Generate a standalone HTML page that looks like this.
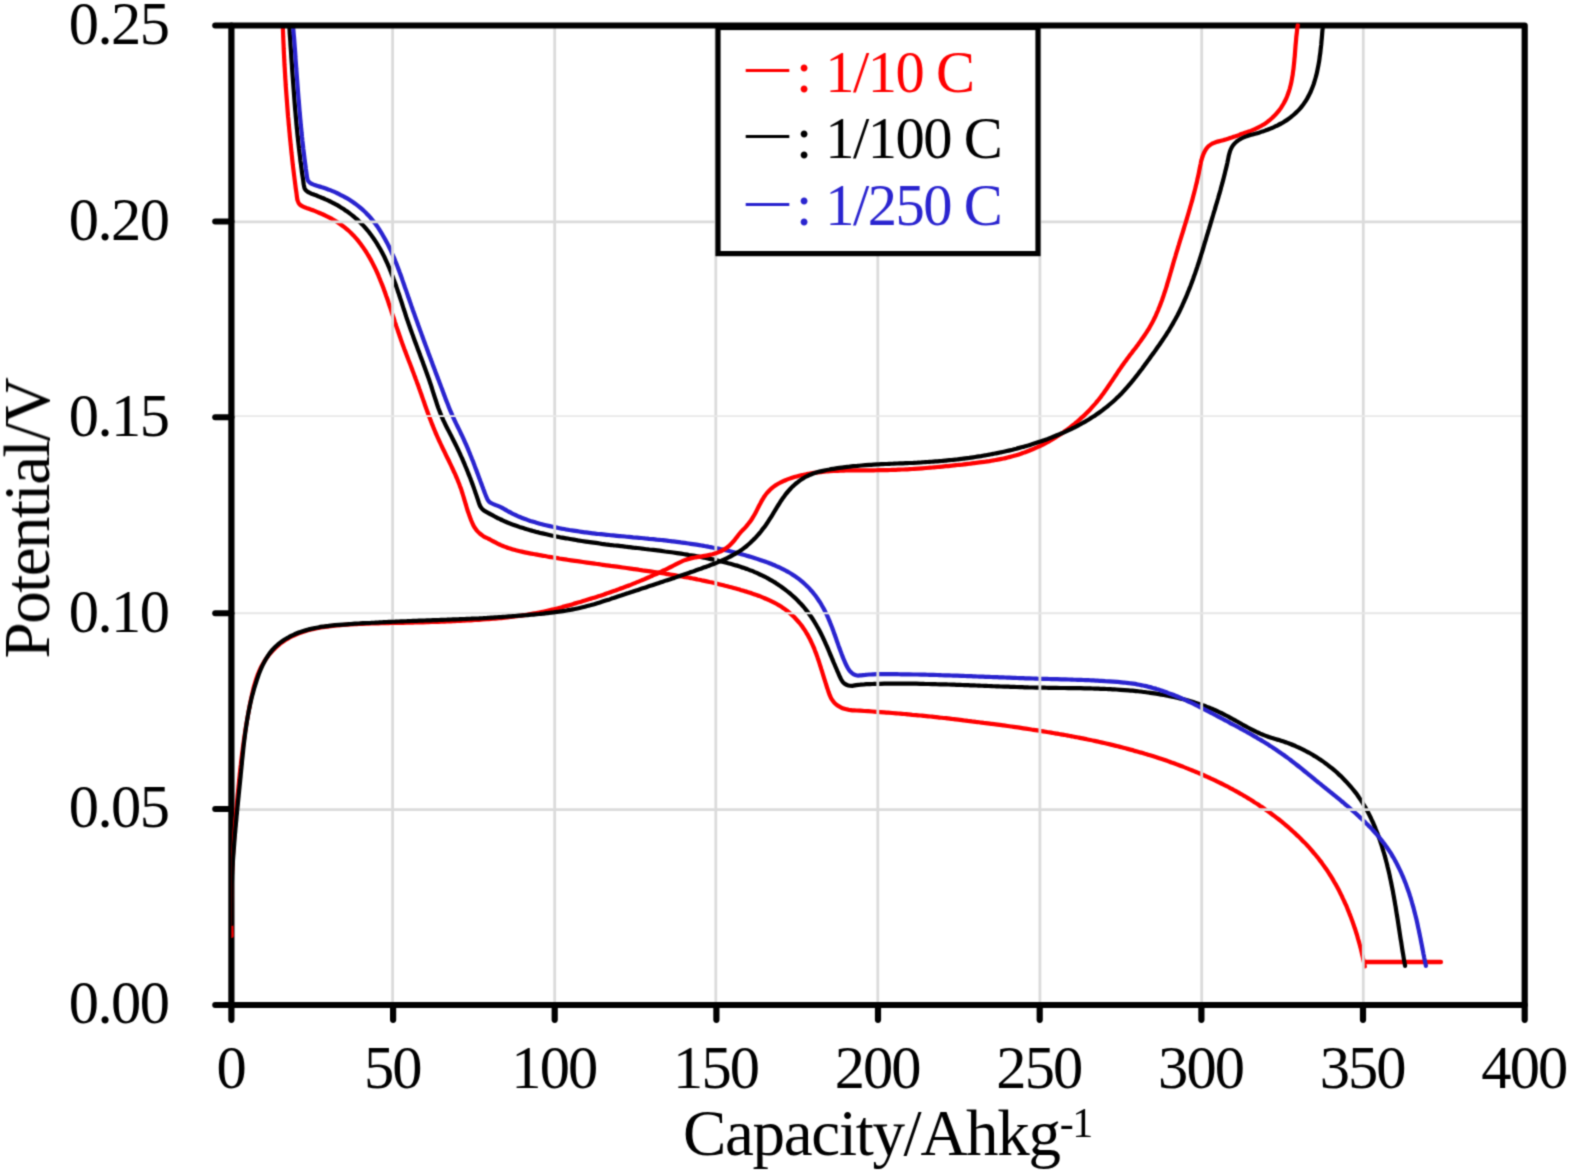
<!DOCTYPE html>
<html lang="en"><head><meta charset="utf-8"><title>Potential vs Capacity</title>
<style>
html,body{margin:0;padding:0;background:#fff;}
body{width:1570px;height:1172px;overflow:hidden;}
svg{display:block;}
svg text{font-family:"Liberation Serif","DejaVu Serif",serif;}
</style></head><body>
<svg width="1570" height="1172" viewBox="0 0 1570 1172">
<defs><filter id="soft" x="0" y="0" width="1570" height="1172" filterUnits="userSpaceOnUse" color-interpolation-filters="sRGB"><feConvolveMatrix order="3" kernelMatrix="0.0361 0.1178 0.0361 0.1178 0.3846 0.1178 0.0361 0.1178 0.0361" edgeMode="duplicate" preserveAlpha="true"/></filter></defs>
<g filter="url(#soft)">
<rect width="1570" height="1172" fill="#fff"/>
<defs><clipPath id="pc"><rect x="231.4" y="23.5" width="1293.3" height="981.5"/></clipPath></defs>
<g clip-path="url(#pc)">
<path d="M282.8 25.0 C282.8 25.7 282.9 27.7 282.9 29.0 C283.0 30.3 283.0 31.7 283.1 33.0 C283.1 34.3 283.2 35.7 283.2 37.0 C283.3 38.3 283.3 39.7 283.4 41.0 C283.4 42.3 283.5 43.7 283.6 45.0 C283.6 46.3 283.7 47.7 283.7 49.0 C283.8 50.3 283.9 51.7 283.9 53.0 C284.0 54.3 284.1 55.7 284.1 57.0 C284.2 58.3 284.3 59.7 284.3 61.0 C284.4 62.3 284.5 63.7 284.5 65.0 C284.6 66.3 284.7 67.7 284.8 69.0 C284.8 70.3 284.9 71.7 285.0 73.0 C285.1 74.3 285.2 75.7 285.2 77.0 C285.3 78.3 285.4 79.7 285.5 81.0 C285.6 82.3 285.7 83.7 285.7 85.0 C285.8 86.3 285.9 87.7 286.0 89.0 C286.1 90.3 286.2 91.7 286.3 93.0 C286.4 94.3 286.5 95.7 286.6 97.0 C286.7 98.3 286.8 99.6 286.9 101.0 C287.0 102.3 287.1 103.6 287.2 105.0 C287.3 106.3 287.4 107.6 287.5 109.0 C287.6 110.3 287.7 111.6 287.8 113.0 C287.9 114.3 288.0 115.6 288.1 117.0 C288.3 118.3 288.4 119.6 288.5 120.9 C288.6 122.3 288.7 123.6 288.8 124.9 C289.0 126.3 289.1 127.6 289.2 128.9 C289.3 130.2 289.4 131.6 289.6 132.9 C289.7 134.2 289.8 135.6 289.9 136.9 C290.1 138.2 290.2 139.6 290.3 140.9 C290.5 142.2 290.6 143.5 290.7 144.9 C290.9 146.2 291.0 147.5 291.1 148.9 C291.3 150.2 291.4 151.5 291.5 152.8 C291.7 154.2 291.8 155.5 292.0 156.8 C292.1 158.1 292.2 159.5 292.4 160.8 C292.5 162.1 292.7 163.5 292.8 164.8 C293.0 166.1 293.1 167.4 293.3 168.8 C293.5 170.1 293.6 171.4 293.8 172.7 C293.9 174.1 294.1 175.4 294.3 176.7 C294.4 178.0 294.6 179.4 294.8 180.7 C294.9 182.0 295.1 183.3 295.3 184.7 C295.5 186.0 295.6 187.3 295.8 188.6 C296.0 189.9 296.2 191.3 296.4 192.6 C296.6 193.9 296.7 195.2 296.9 196.6 C297.1 197.9 297.2 199.3 297.6 200.5 C298.0 201.8 298.5 203.1 299.4 204.1 C300.2 205.1 301.4 205.8 302.6 206.4 C303.8 207.1 305.1 207.4 306.4 207.9 C307.6 208.3 308.9 208.7 310.1 209.2 C311.4 209.6 312.6 210.1 313.9 210.6 C315.1 211.1 316.4 211.6 317.6 212.1 C318.8 212.6 320.1 213.1 321.3 213.7 C322.5 214.2 323.7 214.8 324.9 215.3 C326.1 215.9 327.3 216.5 328.5 217.1 C329.7 217.7 330.9 218.4 332.0 219.0 C333.2 219.7 334.4 220.3 335.5 221.0 C336.6 221.7 337.8 222.5 338.9 223.2 C340.0 223.9 341.1 224.7 342.1 225.5 C343.2 226.3 344.3 227.1 345.3 227.9 C346.4 228.8 347.4 229.6 348.4 230.5 C349.4 231.4 350.3 232.3 351.3 233.3 C352.2 234.2 353.2 235.2 354.1 236.1 C355.0 237.1 355.9 238.1 356.8 239.1 C357.6 240.1 358.5 241.2 359.3 242.2 C360.1 243.3 360.9 244.3 361.7 245.4 C362.5 246.5 363.3 247.6 364.0 248.7 C364.8 249.8 365.5 250.9 366.2 252.0 C366.9 253.2 367.6 254.3 368.3 255.5 C369.0 256.6 369.7 257.8 370.3 258.9 C371.0 260.1 371.6 261.3 372.2 262.4 C372.8 263.6 373.4 264.8 374.0 266.0 C374.6 267.2 375.2 268.4 375.8 269.6 C376.3 270.8 376.9 272.1 377.4 273.3 C378.0 274.5 378.5 275.7 379.0 277.0 C379.5 278.2 380.0 279.4 380.5 280.7 C381.0 281.9 381.5 283.1 382.0 284.4 C382.5 285.6 383.0 286.9 383.4 288.1 C383.9 289.4 384.4 290.6 384.8 291.9 C385.3 293.1 385.7 294.4 386.1 295.7 C386.6 296.9 387.0 298.2 387.5 299.4 C387.9 300.7 388.3 302.0 388.7 303.2 C389.2 304.5 389.6 305.8 390.0 307.0 C390.4 308.3 390.9 309.6 391.3 310.8 C391.7 312.1 392.1 313.4 392.5 314.6 C392.9 315.9 393.4 317.2 393.8 318.4 C394.2 319.7 394.6 321.0 395.0 322.3 C395.4 323.5 395.9 324.8 396.3 326.1 C396.7 327.3 397.1 328.6 397.6 329.8 C398.0 331.1 398.4 332.4 398.9 333.6 C399.3 334.9 399.7 336.2 400.2 337.4 C400.6 338.7 401.0 339.9 401.5 341.2 C401.9 342.5 402.4 343.7 402.9 345.0 C403.3 346.2 403.8 347.5 404.2 348.7 C404.7 350.0 405.2 351.2 405.7 352.5 C406.1 353.7 406.6 355.0 407.1 356.2 C407.6 357.5 408.0 358.7 408.5 360.0 C409.0 361.2 409.5 362.4 410.0 363.7 C410.4 364.9 410.9 366.2 411.4 367.4 C411.9 368.7 412.4 369.9 412.8 371.2 C413.3 372.4 413.8 373.7 414.2 374.9 C414.7 376.2 415.2 377.4 415.6 378.7 C416.1 379.9 416.6 381.2 417.0 382.4 C417.5 383.7 417.9 384.9 418.4 386.2 C418.8 387.5 419.3 388.7 419.7 390.0 C420.2 391.2 420.6 392.5 421.1 393.7 C421.5 395.0 421.9 396.3 422.4 397.5 C422.8 398.8 423.3 400.0 423.7 401.3 C424.2 402.6 424.6 403.8 425.0 405.1 C425.5 406.3 425.9 407.6 426.4 408.9 C426.8 410.1 427.3 411.4 427.7 412.6 C428.2 413.9 428.7 415.1 429.1 416.4 C429.6 417.6 430.1 418.9 430.5 420.1 C431.0 421.4 431.5 422.6 432.0 423.9 C432.5 425.1 433.0 426.3 433.5 427.6 C434.0 428.8 434.5 430.1 435.0 431.3 C435.5 432.5 436.0 433.8 436.6 435.0 C437.1 436.2 437.6 437.4 438.2 438.6 C438.7 439.9 439.3 441.1 439.9 442.3 C440.4 443.5 441.0 444.7 441.6 445.9 C442.1 447.1 442.7 448.3 443.3 449.5 C443.9 450.7 444.5 451.9 445.1 453.1 C445.6 454.3 446.2 455.5 446.8 456.7 C447.4 457.9 448.0 459.1 448.6 460.3 C449.2 461.5 449.7 462.7 450.3 463.9 C450.9 465.1 451.5 466.3 452.0 467.5 C452.6 468.7 453.2 469.9 453.7 471.2 C454.3 472.4 454.8 473.6 455.4 474.8 C455.9 476.0 456.4 477.3 457.0 478.5 C457.5 479.7 458.0 480.9 458.5 482.2 C459.0 483.4 459.5 484.7 459.9 485.9 C460.4 487.2 460.8 488.4 461.3 489.7 C461.7 491.0 462.1 492.2 462.5 493.5 C462.9 494.8 463.3 496.1 463.7 497.3 C464.1 498.6 464.4 499.9 464.8 501.2 C465.2 502.5 465.6 503.7 466.0 505.0 C466.3 506.3 466.7 507.6 467.1 508.8 C467.5 510.1 467.9 511.4 468.4 512.7 C468.8 513.9 469.2 515.2 469.7 516.4 C470.1 517.7 470.6 518.9 471.1 520.2 C471.6 521.4 472.1 522.7 472.7 523.9 C473.2 525.1 473.8 526.3 474.6 527.4 C475.3 528.5 476.1 529.6 476.9 530.6 C477.8 531.6 478.8 532.6 479.8 533.5 C480.8 534.3 481.9 535.1 483.0 535.9 C484.1 536.6 485.3 537.2 486.5 537.8 C487.7 538.5 488.9 539.0 490.1 539.6 C491.3 540.2 492.4 540.9 493.6 541.5 C494.8 542.1 495.9 542.8 497.1 543.4 C498.3 544.0 499.5 544.5 500.8 545.1 C502.0 545.6 503.2 546.1 504.5 546.6 C505.7 547.1 507.0 547.5 508.2 548.0 C509.5 548.4 510.8 548.8 512.1 549.2 C513.3 549.6 514.6 549.9 515.9 550.3 C517.2 550.6 518.5 550.9 519.8 551.2 C521.1 551.5 522.4 551.8 523.7 552.1 C525.0 552.4 526.3 552.7 527.6 552.9 C528.9 553.2 530.2 553.4 531.6 553.7 C532.9 553.9 534.2 554.2 535.5 554.4 C536.8 554.7 538.1 554.9 539.4 555.1 C540.8 555.4 542.1 555.6 543.4 555.8 C544.7 556.1 546.0 556.3 547.3 556.5 C548.6 556.7 550.0 557.0 551.3 557.2 C552.6 557.4 553.9 557.6 555.2 557.8 C556.5 558.0 557.9 558.2 559.2 558.5 C560.5 558.7 561.8 558.9 563.1 559.1 C564.5 559.3 565.8 559.5 567.1 559.7 C568.4 559.9 569.7 560.1 571.1 560.3 C572.4 560.5 573.7 560.7 575.0 560.9 C576.3 561.1 577.7 561.3 579.0 561.4 C580.3 561.6 581.6 561.8 582.9 562.0 C584.3 562.2 585.6 562.4 586.9 562.6 C588.2 562.8 589.6 563.0 590.9 563.1 C592.2 563.3 593.5 563.5 594.8 563.7 C596.2 563.9 597.5 564.1 598.8 564.2 C600.1 564.4 601.5 564.6 602.8 564.8 C604.1 565.0 605.4 565.1 606.8 565.3 C608.1 565.5 609.4 565.7 610.7 565.9 C612.0 566.0 613.4 566.2 614.7 566.4 C616.0 566.6 617.3 566.8 618.7 566.9 C620.0 567.1 621.3 567.3 622.6 567.5 C623.9 567.7 625.3 567.9 626.6 568.0 C627.9 568.2 629.2 568.4 630.6 568.6 C631.9 568.8 633.2 568.9 634.5 569.1 C635.8 569.3 637.2 569.5 638.5 569.7 C639.8 569.9 641.1 570.1 642.5 570.3 C643.8 570.4 645.1 570.6 646.4 570.8 C647.7 571.0 649.1 571.2 650.4 571.4 C651.7 571.6 653.0 571.8 654.3 572.0 C655.7 572.2 657.0 572.4 658.3 572.6 C659.6 572.8 660.9 573.0 662.3 573.2 C663.6 573.4 664.9 573.6 666.2 573.8 C667.5 574.0 668.9 574.3 670.2 574.5 C671.5 574.7 672.8 574.9 674.1 575.1 C675.4 575.4 676.8 575.6 678.1 575.8 C679.4 576.0 680.7 576.3 682.0 576.5 C683.3 576.7 684.6 577.0 686.0 577.2 C687.3 577.4 688.6 577.7 689.9 577.9 C691.2 578.2 692.5 578.4 693.8 578.7 C695.1 578.9 696.4 579.2 697.8 579.5 C699.1 579.7 700.4 580.0 701.7 580.3 C703.0 580.5 704.3 580.8 705.6 581.1 C706.9 581.4 708.2 581.7 709.5 582.0 C710.8 582.2 712.1 582.5 713.4 582.8 C714.7 583.1 716.0 583.4 717.3 583.7 C718.6 584.1 719.9 584.4 721.2 584.7 C722.5 585.0 723.8 585.3 725.1 585.7 C726.4 586.0 727.7 586.3 729.0 586.7 C730.3 587.0 731.6 587.4 732.8 587.7 C734.1 588.1 735.4 588.4 736.7 588.8 C738.0 589.2 739.3 589.5 740.5 589.9 C741.8 590.3 743.1 590.7 744.4 591.1 C745.7 591.4 746.9 591.8 748.2 592.2 C749.5 592.6 750.7 593.1 752.0 593.5 C753.3 593.9 754.5 594.3 755.8 594.8 C757.1 595.2 758.3 595.7 759.6 596.1 C760.8 596.6 762.1 597.1 763.3 597.6 C764.5 598.1 765.8 598.6 767.0 599.2 C768.2 599.7 769.4 600.2 770.6 600.8 C771.8 601.4 773.0 602.0 774.2 602.6 C775.4 603.2 776.6 603.9 777.7 604.6 C778.9 605.2 780.0 605.9 781.1 606.6 C782.3 607.4 783.4 608.1 784.5 608.9 C785.5 609.7 786.6 610.5 787.7 611.3 C788.7 612.1 789.7 613.0 790.7 613.9 C791.7 614.7 792.7 615.7 793.7 616.6 C794.6 617.5 795.5 618.5 796.4 619.5 C797.3 620.5 798.2 621.5 799.1 622.5 C799.9 623.5 800.8 624.6 801.6 625.6 C802.4 626.7 803.1 627.8 803.9 628.9 C804.6 630.0 805.4 631.1 806.1 632.3 C806.8 633.4 807.4 634.5 808.1 635.7 C808.7 636.9 809.4 638.1 810.0 639.2 C810.6 640.4 811.1 641.6 811.7 642.9 C812.3 644.1 812.8 645.3 813.3 646.5 C813.9 647.7 814.4 649.0 814.8 650.2 C815.3 651.5 815.8 652.7 816.3 654.0 C816.7 655.2 817.2 656.5 817.6 657.7 C818.1 659.0 818.5 660.3 818.9 661.5 C819.3 662.8 819.7 664.1 820.1 665.3 C820.5 666.6 820.9 667.9 821.3 669.2 C821.7 670.4 822.1 671.7 822.5 673.0 C822.9 674.3 823.3 675.5 823.7 676.8 C824.1 678.1 824.5 679.4 824.9 680.6 C825.3 681.9 825.7 683.2 826.1 684.5 C826.5 685.7 826.9 687.0 827.3 688.3 C827.8 689.5 828.2 690.8 828.6 692.1 C829.1 693.3 829.5 694.6 830.0 695.8 C830.6 697.0 831.1 698.3 831.8 699.4 C832.5 700.5 833.3 701.6 834.2 702.6 C835.1 703.6 836.1 704.5 837.2 705.3 C838.3 706.1 839.4 706.8 840.7 707.3 C841.9 707.9 843.1 708.4 844.4 708.8 C845.7 709.2 847.0 709.5 848.3 709.7 C849.6 710.0 851.0 710.1 852.3 710.3 C853.6 710.4 854.9 710.4 856.3 710.5 C857.6 710.5 858.9 710.6 860.3 710.7 C861.6 710.8 862.9 710.9 864.3 711.0 C865.6 711.0 866.9 711.1 868.3 711.2 C869.6 711.3 870.9 711.4 872.3 711.5 C873.6 711.6 874.9 711.7 876.3 711.8 C877.6 711.9 878.9 712.0 880.3 712.1 C881.6 712.2 882.9 712.3 884.3 712.4 C885.6 712.5 886.9 712.6 888.2 712.7 C889.6 712.8 890.9 712.9 892.2 713.0 C893.6 713.1 894.9 713.2 896.2 713.3 C897.6 713.4 898.9 713.6 900.2 713.7 C901.5 713.8 902.9 713.9 904.2 714.0 C905.5 714.1 906.9 714.3 908.2 714.4 C909.5 714.5 910.9 714.6 912.2 714.8 C913.5 714.9 914.8 715.0 916.2 715.1 C917.5 715.3 918.8 715.4 920.2 715.5 C921.5 715.6 922.8 715.8 924.1 715.9 C925.5 716.0 926.8 716.2 928.1 716.3 C929.5 716.4 930.8 716.6 932.1 716.7 C933.4 716.9 934.8 717.0 936.1 717.1 C937.4 717.3 938.8 717.4 940.1 717.6 C941.4 717.7 942.7 717.9 944.1 718.0 C945.4 718.1 946.7 718.3 948.0 718.4 C949.4 718.6 950.7 718.7 952.0 718.9 C953.3 719.0 954.7 719.2 956.0 719.3 C957.3 719.5 958.7 719.7 960.0 719.8 C961.3 720.0 962.6 720.1 964.0 720.3 C965.3 720.4 966.6 720.6 967.9 720.8 C969.3 720.9 970.6 721.1 971.9 721.3 C973.2 721.4 974.6 721.6 975.9 721.8 C977.2 721.9 978.5 722.1 979.9 722.3 C981.2 722.4 982.5 722.6 983.8 722.8 C985.1 722.9 986.5 723.1 987.8 723.3 C989.1 723.5 990.4 723.6 991.8 723.8 C993.1 724.0 994.4 724.2 995.7 724.3 C997.1 724.5 998.4 724.7 999.7 724.9 C1001.0 725.1 1002.4 725.2 1003.7 725.4 C1005.0 725.6 1006.3 725.8 1007.6 726.0 C1009.0 726.2 1010.3 726.3 1011.6 726.5 C1012.9 726.7 1014.3 726.9 1015.6 727.1 C1016.9 727.3 1018.2 727.5 1019.5 727.7 C1020.9 727.9 1022.2 728.1 1023.5 728.3 C1024.8 728.5 1026.1 728.7 1027.5 728.8 C1028.8 729.0 1030.1 729.2 1031.4 729.5 C1032.7 729.7 1034.1 729.9 1035.4 730.1 C1036.7 730.3 1038.0 730.5 1039.3 730.7 C1040.7 730.9 1042.0 731.1 1043.3 731.3 C1044.6 731.5 1045.9 731.7 1047.2 732.0 C1048.6 732.2 1049.9 732.4 1051.2 732.6 C1052.5 732.8 1053.8 733.1 1055.1 733.3 C1056.5 733.5 1057.8 733.8 1059.1 734.0 C1060.4 734.2 1061.7 734.5 1063.0 734.7 C1064.3 734.9 1065.7 735.2 1067.0 735.4 C1068.3 735.6 1069.6 735.9 1070.9 736.1 C1072.2 736.4 1073.5 736.6 1074.8 736.9 C1076.2 737.1 1077.5 737.4 1078.8 737.6 C1080.1 737.9 1081.4 738.2 1082.7 738.4 C1084.0 738.7 1085.3 739.0 1086.6 739.2 C1087.9 739.5 1089.2 739.8 1090.5 740.0 C1091.9 740.3 1093.2 740.6 1094.5 740.9 C1095.8 741.2 1097.1 741.5 1098.4 741.7 C1099.7 742.0 1101.0 742.3 1102.3 742.6 C1103.6 742.9 1104.9 743.2 1106.2 743.5 C1107.5 743.8 1108.8 744.1 1110.1 744.4 C1111.4 744.7 1112.7 745.1 1114.0 745.4 C1115.3 745.7 1116.6 746.0 1117.9 746.3 C1119.2 746.7 1120.5 747.0 1121.7 747.3 C1123.0 747.7 1124.3 748.0 1125.6 748.3 C1126.9 748.7 1128.2 749.0 1129.5 749.4 C1130.8 749.7 1132.1 750.1 1133.4 750.4 C1134.6 750.8 1135.9 751.2 1137.2 751.5 C1138.5 751.9 1139.8 752.3 1141.1 752.6 C1142.3 753.0 1143.6 753.4 1144.9 753.8 C1146.2 754.1 1147.5 754.5 1148.7 754.9 C1150.0 755.3 1151.3 755.7 1152.6 756.1 C1153.8 756.5 1155.1 756.9 1156.4 757.3 C1157.6 757.7 1158.9 758.2 1160.2 758.6 C1161.4 759.0 1162.7 759.4 1164.0 759.8 C1165.2 760.3 1166.5 760.7 1167.8 761.1 C1169.0 761.6 1170.3 762.0 1171.5 762.5 C1172.8 762.9 1174.1 763.4 1175.3 763.8 C1176.6 764.3 1177.8 764.8 1179.1 765.2 C1180.3 765.7 1181.6 766.2 1182.8 766.6 C1184.1 767.1 1185.3 767.6 1186.5 768.1 C1187.8 768.6 1189.0 769.1 1190.3 769.6 C1191.5 770.1 1192.7 770.6 1194.0 771.1 C1195.2 771.6 1196.4 772.1 1197.7 772.6 C1198.9 773.1 1200.1 773.7 1201.4 774.2 C1202.6 774.7 1203.8 775.3 1205.0 775.8 C1206.2 776.4 1207.5 776.9 1208.7 777.5 C1209.9 778.0 1211.1 778.6 1212.3 779.1 C1213.5 779.7 1214.7 780.3 1215.9 780.8 C1217.1 781.4 1218.3 782.0 1219.5 782.6 C1220.7 783.2 1221.9 783.8 1223.1 784.4 C1224.3 785.0 1225.5 785.6 1226.7 786.2 C1227.9 786.8 1229.0 787.4 1230.2 788.1 C1231.4 788.7 1232.6 789.3 1233.8 790.0 C1234.9 790.6 1236.1 791.2 1237.3 791.9 C1238.4 792.5 1239.6 793.2 1240.7 793.9 C1241.9 794.5 1243.1 795.2 1244.2 795.9 C1245.4 796.6 1246.5 797.2 1247.6 797.9 C1248.8 798.6 1249.9 799.3 1251.1 800.0 C1252.2 800.7 1253.3 801.5 1254.4 802.2 C1255.6 802.9 1256.7 803.6 1257.8 804.3 C1258.9 805.1 1260.0 805.8 1261.1 806.6 C1262.3 807.3 1263.4 808.1 1264.5 808.8 C1265.5 809.6 1266.6 810.4 1267.7 811.1 C1268.8 811.9 1269.9 812.7 1271.0 813.5 C1272.0 814.3 1273.1 815.1 1274.2 815.9 C1275.3 816.7 1276.3 817.5 1277.4 818.3 C1278.4 819.1 1279.5 819.9 1280.5 820.8 C1281.6 821.6 1282.6 822.5 1283.6 823.3 C1284.6 824.2 1285.7 825.0 1286.7 825.9 C1287.7 826.7 1288.7 827.6 1289.7 828.5 C1290.7 829.4 1291.7 830.3 1292.7 831.2 C1293.7 832.1 1294.7 833.0 1295.7 833.9 C1296.6 834.8 1297.6 835.7 1298.6 836.6 C1299.5 837.6 1300.5 838.5 1301.4 839.4 C1302.4 840.4 1303.3 841.3 1304.2 842.3 C1305.2 843.2 1306.1 844.2 1307.0 845.2 C1307.9 846.2 1308.8 847.1 1309.7 848.1 C1310.6 849.1 1311.5 850.1 1312.3 851.1 C1313.2 852.2 1314.1 853.2 1314.9 854.2 C1315.8 855.2 1316.6 856.3 1317.5 857.3 C1318.3 858.3 1319.1 859.4 1319.9 860.5 C1320.8 861.5 1321.6 862.6 1322.3 863.7 C1323.1 864.7 1323.9 865.8 1324.7 866.9 C1325.5 868.0 1326.2 869.1 1327.0 870.2 C1327.7 871.3 1328.4 872.4 1329.2 873.6 C1329.9 874.7 1330.6 875.8 1331.3 876.9 C1332.0 878.1 1332.7 879.2 1333.4 880.4 C1334.0 881.5 1334.7 882.7 1335.4 883.8 C1336.0 885.0 1336.7 886.2 1337.3 887.3 C1337.9 888.5 1338.6 889.7 1339.2 890.9 C1339.8 892.1 1340.4 893.3 1341.0 894.5 C1341.6 895.6 1342.2 896.9 1342.7 898.1 C1343.3 899.3 1343.9 900.5 1344.4 901.7 C1345.0 902.9 1345.5 904.1 1346.1 905.3 C1346.6 906.6 1347.1 907.8 1347.6 909.0 C1348.1 910.3 1348.7 911.5 1349.1 912.7 C1349.6 914.0 1350.1 915.2 1350.6 916.5 C1351.1 917.7 1351.5 919.0 1352.0 920.2 C1352.5 921.5 1352.9 922.7 1353.3 924.0 C1353.8 925.3 1354.2 926.5 1354.6 927.8 C1355.1 929.1 1355.5 930.3 1355.9 931.6 C1356.3 932.9 1356.7 934.1 1357.1 935.4 C1357.4 936.7 1357.8 938.0 1358.2 939.3 C1358.6 940.5 1358.9 941.8 1359.3 943.1 C1359.6 944.4 1360.0 945.7 1360.3 947.0 C1360.7 948.3 1361.0 949.6 1361.3 950.9 C1361.6 952.2 1361.9 953.5 1362.2 954.8 C1362.6 956.1 1362.9 957.4 1363.1 958.7 C1363.4 960.0 1363.7 961.3 1364.0 962.6 C1364.3 963.9 1364.7 965.8 1364.8 966.5" fill="none" stroke="#ff0000" stroke-width="4.20" stroke-linejoin="round" stroke-linecap="round"/>
<path d="M1365.0 962.0 L1440.8 962.0" fill="none" stroke="#ff0000" stroke-width="4.60" stroke-linejoin="round" stroke-linecap="round"/>
<path d="M289.2 25.0 C289.2 25.7 289.4 27.7 289.5 29.0 C289.6 30.3 289.7 31.7 289.7 33.0 C289.8 34.3 289.9 35.7 290.0 37.0 C290.1 38.3 290.2 39.6 290.3 41.0 C290.4 42.3 290.4 43.6 290.5 45.0 C290.6 46.3 290.7 47.6 290.8 49.0 C290.9 50.3 291.0 51.6 291.1 53.0 C291.2 54.3 291.2 55.6 291.3 57.0 C291.4 58.3 291.5 59.6 291.6 61.0 C291.7 62.3 291.8 63.6 291.9 65.0 C292.0 66.3 292.0 67.6 292.1 68.9 C292.2 70.3 292.3 71.6 292.4 72.9 C292.5 74.3 292.6 75.6 292.7 76.9 C292.8 78.3 292.9 79.6 293.0 80.9 C293.1 82.3 293.2 83.6 293.3 84.9 C293.4 86.3 293.5 87.6 293.6 88.9 C293.7 90.3 293.8 91.6 293.9 92.9 C294.0 94.2 294.1 95.6 294.2 96.9 C294.3 98.2 294.4 99.6 294.5 100.9 C294.6 102.2 294.7 103.6 294.8 104.9 C294.9 106.2 295.0 107.5 295.1 108.9 C295.2 110.2 295.4 111.5 295.5 112.9 C295.6 114.2 295.7 115.5 295.8 116.9 C295.9 118.2 296.1 119.5 296.2 120.8 C296.3 122.2 296.4 123.5 296.5 124.8 C296.7 126.2 296.8 127.5 296.9 128.8 C297.1 130.1 297.2 131.5 297.3 132.8 C297.4 134.1 297.6 135.5 297.7 136.8 C297.9 138.1 298.0 139.4 298.1 140.8 C298.3 142.1 298.4 143.4 298.6 144.8 C298.7 146.1 298.9 147.4 299.0 148.7 C299.2 150.1 299.3 151.4 299.5 152.7 C299.6 154.0 299.8 155.4 300.0 156.7 C300.1 158.0 300.3 159.3 300.4 160.7 C300.6 162.0 300.8 163.3 301.0 164.6 C301.1 166.0 301.3 167.3 301.5 168.6 C301.7 169.9 301.8 171.2 302.0 172.6 C302.2 173.9 302.4 175.2 302.6 176.5 C302.8 177.9 303.0 179.2 303.2 180.5 C303.4 181.8 303.5 183.1 303.7 184.4 C304.0 185.8 304.1 187.2 304.6 188.4 C305.2 189.5 306.1 190.6 307.1 191.4 C308.1 192.3 309.5 192.8 310.7 193.3 C311.9 193.9 313.2 194.3 314.4 194.8 C315.7 195.2 316.9 195.7 318.1 196.2 C319.4 196.7 320.6 197.3 321.8 197.8 C323.1 198.3 324.3 198.8 325.5 199.4 C326.7 199.9 328.0 200.5 329.2 201.0 C330.4 201.6 331.6 202.2 332.8 202.8 C333.9 203.4 335.1 204.0 336.3 204.7 C337.5 205.3 338.6 206.0 339.8 206.7 C340.9 207.4 342.0 208.1 343.2 208.8 C344.3 209.5 345.4 210.3 346.5 211.0 C347.6 211.8 348.7 212.6 349.7 213.4 C350.8 214.2 351.8 215.0 352.9 215.9 C353.9 216.7 354.9 217.6 355.9 218.5 C356.9 219.3 357.9 220.2 358.9 221.2 C359.8 222.1 360.8 223.0 361.7 224.0 C362.7 224.9 363.6 225.9 364.5 226.9 C365.4 227.9 366.3 228.9 367.1 229.9 C368.0 230.9 368.8 232.0 369.6 233.0 C370.4 234.1 371.3 235.1 372.0 236.2 C372.8 237.3 373.6 238.4 374.3 239.5 C375.1 240.6 375.8 241.7 376.5 242.8 C377.2 244.0 377.9 245.1 378.6 246.3 C379.3 247.4 379.9 248.6 380.6 249.7 C381.2 250.9 381.9 252.1 382.5 253.3 C383.1 254.5 383.7 255.6 384.3 256.8 C384.9 258.0 385.4 259.3 386.0 260.5 C386.6 261.7 387.1 262.9 387.7 264.1 C388.2 265.3 388.7 266.6 389.2 267.8 C389.7 269.0 390.2 270.3 390.7 271.5 C391.2 272.7 391.7 274.0 392.2 275.2 C392.7 276.5 393.1 277.7 393.6 279.0 C394.1 280.2 394.5 281.5 395.0 282.7 C395.4 284.0 395.9 285.3 396.3 286.5 C396.7 287.8 397.2 289.0 397.6 290.3 C398.0 291.6 398.4 292.8 398.9 294.1 C399.3 295.4 399.7 296.6 400.1 297.9 C400.5 299.2 401.0 300.4 401.4 301.7 C401.8 303.0 402.2 304.3 402.6 305.5 C403.0 306.8 403.4 308.1 403.8 309.3 C404.3 310.6 404.7 311.9 405.1 313.1 C405.5 314.4 405.9 315.7 406.3 316.9 C406.8 318.2 407.2 319.5 407.6 320.7 C408.0 322.0 408.5 323.3 408.9 324.5 C409.4 325.8 409.8 327.0 410.2 328.3 C410.7 329.6 411.1 330.8 411.6 332.1 C412.0 333.3 412.5 334.6 413.0 335.8 C413.4 337.1 413.9 338.3 414.3 339.6 C414.8 340.8 415.3 342.1 415.7 343.4 C416.2 344.6 416.7 345.9 417.1 347.1 C417.6 348.4 418.1 349.6 418.5 350.9 C419.0 352.1 419.5 353.4 419.9 354.6 C420.4 355.9 420.9 357.1 421.3 358.4 C421.8 359.6 422.3 360.9 422.7 362.1 C423.2 363.4 423.7 364.6 424.1 365.9 C424.6 367.1 425.0 368.4 425.5 369.6 C425.9 370.9 426.4 372.1 426.8 373.4 C427.3 374.6 427.7 375.9 428.2 377.2 C428.6 378.4 429.1 379.7 429.5 380.9 C429.9 382.2 430.4 383.5 430.8 384.7 C431.2 386.0 431.6 387.3 432.0 388.5 C432.4 389.8 432.8 391.1 433.2 392.4 C433.6 393.6 434.0 394.9 434.4 396.2 C434.8 397.5 435.2 398.7 435.7 400.0 C436.1 401.3 436.5 402.5 436.9 403.8 C437.3 405.1 437.8 406.3 438.2 407.6 C438.6 408.8 439.1 410.1 439.6 411.3 C440.1 412.6 440.6 413.8 441.1 415.1 C441.6 416.3 442.1 417.5 442.7 418.7 C443.2 420.0 443.8 421.2 444.4 422.4 C444.9 423.6 445.5 424.8 446.1 426.0 C446.7 427.2 447.3 428.3 447.9 429.5 C448.6 430.7 449.2 431.9 449.8 433.1 C450.4 434.3 451.0 435.5 451.6 436.6 C452.2 437.8 452.8 439.0 453.4 440.2 C454.0 441.4 454.6 442.6 455.2 443.8 C455.8 445.0 456.4 446.2 457.0 447.4 C457.5 448.6 458.1 449.8 458.7 451.0 C459.2 452.2 459.8 453.4 460.4 454.7 C460.9 455.9 461.5 457.1 462.0 458.3 C462.6 459.5 463.1 460.7 463.6 462.0 C464.2 463.2 464.7 464.4 465.2 465.7 C465.7 466.9 466.2 468.1 466.7 469.3 C467.2 470.6 467.8 471.8 468.2 473.1 C468.7 474.3 469.2 475.5 469.7 476.8 C470.2 478.0 470.7 479.3 471.1 480.5 C471.6 481.8 472.1 483.0 472.5 484.3 C473.0 485.5 473.4 486.8 473.9 488.0 C474.3 489.3 474.8 490.6 475.2 491.8 C475.6 493.1 476.1 494.4 476.5 495.6 C476.9 496.9 477.4 498.1 477.8 499.4 C478.2 500.7 478.6 502.0 479.0 503.2 C479.5 504.5 479.9 505.8 480.6 506.9 C481.3 508.0 482.2 509.1 483.2 509.9 C484.2 510.8 485.4 511.4 486.6 512.1 C487.7 512.8 488.9 513.4 490.1 514.0 C491.3 514.6 492.4 515.3 493.6 515.9 C494.8 516.5 496.0 517.2 497.2 517.8 C498.4 518.4 499.6 518.9 500.8 519.5 C502.0 520.1 503.2 520.6 504.4 521.2 C505.6 521.7 506.9 522.2 508.1 522.7 C509.4 523.2 510.6 523.7 511.8 524.2 C513.1 524.6 514.3 525.1 515.6 525.6 C516.9 526.0 518.1 526.4 519.4 526.9 C520.7 527.3 521.9 527.7 523.2 528.1 C524.5 528.5 525.7 528.9 527.0 529.3 C528.3 529.6 529.6 530.0 530.9 530.4 C532.2 530.7 533.4 531.1 534.7 531.4 C536.0 531.8 537.3 532.1 538.6 532.4 C539.9 532.8 541.2 533.1 542.5 533.4 C543.8 533.7 545.1 534.0 546.4 534.3 C547.7 534.6 549.0 534.9 550.3 535.2 C551.6 535.5 552.9 535.8 554.2 536.0 C555.5 536.3 556.8 536.6 558.1 536.8 C559.5 537.1 560.8 537.4 562.1 537.6 C563.4 537.9 564.7 538.1 566.0 538.3 C567.3 538.6 568.6 538.8 570.0 539.0 C571.3 539.3 572.6 539.5 573.9 539.7 C575.2 539.9 576.5 540.1 577.8 540.4 C579.2 540.6 580.5 540.8 581.8 541.0 C583.1 541.2 584.4 541.4 585.8 541.6 C587.1 541.8 588.4 542.0 589.7 542.1 C591.0 542.3 592.4 542.5 593.7 542.7 C595.0 542.9 596.3 543.1 597.7 543.2 C599.0 543.4 600.3 543.6 601.6 543.8 C603.0 543.9 604.3 544.1 605.6 544.3 C606.9 544.4 608.3 544.6 609.6 544.8 C610.9 544.9 612.2 545.1 613.6 545.3 C614.9 545.4 616.2 545.6 617.5 545.7 C618.9 545.9 620.2 546.0 621.5 546.2 C622.8 546.4 624.2 546.5 625.5 546.7 C626.8 546.8 628.1 547.0 629.5 547.1 C630.8 547.3 632.1 547.4 633.4 547.6 C634.8 547.7 636.1 547.9 637.4 548.0 C638.7 548.2 640.1 548.4 641.4 548.5 C642.7 548.7 644.0 548.8 645.4 549.0 C646.7 549.1 648.0 549.3 649.3 549.5 C650.7 549.6 652.0 549.8 653.3 549.9 C654.6 550.1 656.0 550.3 657.3 550.4 C658.6 550.6 659.9 550.8 661.3 550.9 C662.6 551.1 663.9 551.3 665.2 551.5 C666.6 551.6 667.9 551.8 669.2 552.0 C670.5 552.2 671.8 552.4 673.2 552.5 C674.5 552.7 675.8 552.9 677.1 553.1 C678.5 553.3 679.8 553.5 681.1 553.7 C682.4 553.9 683.7 554.1 685.0 554.3 C686.4 554.5 687.7 554.7 689.0 555.0 C690.3 555.2 691.6 555.4 693.0 555.6 C694.3 555.9 695.6 556.1 696.9 556.3 C698.2 556.6 699.5 556.8 700.8 557.0 C702.1 557.3 703.5 557.5 704.8 557.8 C706.1 558.1 707.4 558.3 708.7 558.6 C710.0 558.9 711.3 559.2 712.6 559.4 C713.9 559.7 715.2 560.0 716.5 560.3 C717.8 560.6 719.1 560.9 720.4 561.2 C721.7 561.5 723.0 561.9 724.3 562.2 C725.6 562.5 726.9 562.8 728.2 563.2 C729.5 563.5 730.8 563.9 732.0 564.2 C733.3 564.6 734.6 565.0 735.9 565.4 C737.2 565.7 738.4 566.1 739.7 566.5 C741.0 566.9 742.2 567.4 743.5 567.8 C744.8 568.2 746.0 568.7 747.3 569.1 C748.5 569.6 749.8 570.1 751.0 570.6 C752.3 571.0 753.5 571.5 754.7 572.1 C756.0 572.6 757.2 573.1 758.4 573.7 C759.6 574.2 760.8 574.8 762.0 575.4 C763.2 576.0 764.4 576.6 765.6 577.2 C766.8 577.8 767.9 578.5 769.1 579.1 C770.3 579.8 771.4 580.4 772.6 581.1 C773.7 581.8 774.9 582.5 776.0 583.2 C777.1 583.9 778.2 584.7 779.3 585.4 C780.4 586.2 781.5 586.9 782.6 587.7 C783.7 588.5 784.8 589.3 785.8 590.1 C786.9 590.9 787.9 591.7 789.0 592.6 C790.0 593.4 791.0 594.3 792.0 595.2 C793.0 596.1 794.0 597.0 795.0 597.9 C796.0 598.8 796.9 599.7 797.9 600.7 C798.8 601.6 799.7 602.6 800.6 603.6 C801.5 604.5 802.4 605.5 803.3 606.5 C804.2 607.6 805.0 608.6 805.8 609.6 C806.7 610.7 807.5 611.7 808.3 612.8 C809.1 613.9 809.9 615.0 810.6 616.0 C811.4 617.1 812.1 618.2 812.9 619.4 C813.6 620.5 814.3 621.6 815.0 622.8 C815.7 623.9 816.4 625.1 817.0 626.2 C817.7 627.4 818.3 628.5 819.0 629.7 C819.6 630.9 820.2 632.1 820.8 633.3 C821.4 634.5 822.0 635.7 822.6 636.9 C823.1 638.1 823.7 639.3 824.3 640.5 C824.8 641.7 825.4 642.9 825.9 644.1 C826.5 645.4 827.0 646.6 827.5 647.8 C828.1 649.0 828.6 650.3 829.1 651.5 C829.6 652.7 830.1 654.0 830.6 655.2 C831.2 656.4 831.7 657.6 832.2 658.9 C832.7 660.1 833.2 661.3 833.7 662.6 C834.3 663.8 834.8 665.0 835.3 666.3 C835.8 667.5 836.3 668.7 836.9 669.9 C837.4 671.2 838.0 672.4 838.5 673.6 C839.0 674.8 839.5 676.1 840.1 677.3 C840.7 678.5 841.2 679.7 842.0 680.8 C842.7 681.9 843.6 683.0 844.7 683.8 C845.8 684.6 847.1 685.2 848.3 685.5 C849.6 685.8 851.0 685.8 852.3 685.8 C853.7 685.7 855.0 685.3 856.3 685.1 C857.6 684.9 859.0 684.7 860.3 684.6 C861.6 684.4 862.9 684.3 864.3 684.3 C865.6 684.2 866.9 684.2 868.3 684.1 C869.6 684.1 870.9 684.0 872.3 684.0 C873.6 684.0 874.9 683.9 876.3 683.9 C877.6 683.9 878.9 683.8 880.3 683.8 C881.6 683.8 882.9 683.8 884.3 683.7 C885.6 683.7 887.0 683.7 888.3 683.7 C889.6 683.7 891.0 683.6 892.3 683.6 C893.6 683.6 895.0 683.6 896.3 683.6 C897.6 683.6 899.0 683.6 900.3 683.6 C901.6 683.6 903.0 683.6 904.3 683.6 C905.6 683.6 907.0 683.6 908.3 683.6 C909.6 683.7 911.0 683.7 912.3 683.7 C913.6 683.7 915.0 683.7 916.3 683.7 C917.6 683.8 919.0 683.8 920.3 683.8 C921.7 683.8 923.0 683.8 924.3 683.9 C925.7 683.9 927.0 683.9 928.3 684.0 C929.7 684.0 931.0 684.0 932.3 684.1 C933.7 684.1 935.0 684.1 936.3 684.2 C937.7 684.2 939.0 684.2 940.3 684.3 C941.7 684.3 943.0 684.3 944.3 684.4 C945.7 684.4 947.0 684.5 948.3 684.5 C949.7 684.6 951.0 684.6 952.3 684.6 C953.7 684.7 955.0 684.7 956.3 684.8 C957.7 684.8 959.0 684.9 960.3 684.9 C961.7 685.0 963.0 685.0 964.3 685.1 C965.7 685.1 967.0 685.2 968.3 685.2 C969.7 685.3 971.0 685.3 972.3 685.4 C973.7 685.4 975.0 685.5 976.3 685.5 C977.7 685.6 979.0 685.6 980.4 685.7 C981.7 685.7 983.0 685.8 984.4 685.8 C985.7 685.9 987.0 685.9 988.4 686.0 C989.7 686.0 991.0 686.1 992.4 686.2 C993.7 686.2 995.0 686.3 996.4 686.3 C997.7 686.4 999.0 686.4 1000.4 686.5 C1001.7 686.5 1003.0 686.5 1004.4 686.6 C1005.7 686.6 1007.0 686.7 1008.4 686.7 C1009.7 686.8 1011.0 686.8 1012.4 686.9 C1013.7 686.9 1015.0 687.0 1016.4 687.0 C1017.7 687.1 1019.0 687.1 1020.4 687.1 C1021.7 687.2 1023.0 687.2 1024.4 687.3 C1025.7 687.3 1027.0 687.3 1028.4 687.4 C1029.7 687.4 1031.0 687.4 1032.4 687.5 C1033.7 687.5 1035.0 687.5 1036.4 687.6 C1037.7 687.6 1039.0 687.6 1040.4 687.6 C1041.7 687.7 1043.0 687.7 1044.4 687.7 C1045.7 687.7 1047.1 687.8 1048.4 687.8 C1049.7 687.8 1051.1 687.8 1052.4 687.8 C1053.7 687.9 1055.1 687.9 1056.4 687.9 C1057.7 687.9 1059.1 687.9 1060.4 688.0 C1061.7 688.0 1063.1 688.0 1064.4 688.0 C1065.7 688.0 1067.1 688.0 1068.4 688.1 C1069.7 688.1 1071.1 688.1 1072.4 688.1 C1073.7 688.1 1075.1 688.1 1076.4 688.2 C1077.7 688.2 1079.1 688.2 1080.4 688.2 C1081.8 688.3 1083.1 688.3 1084.4 688.3 C1085.8 688.3 1087.1 688.4 1088.4 688.4 C1089.8 688.4 1091.1 688.5 1092.4 688.5 C1093.8 688.5 1095.1 688.6 1096.4 688.6 C1097.8 688.7 1099.1 688.7 1100.4 688.8 C1101.8 688.8 1103.1 688.9 1104.4 688.9 C1105.8 689.0 1107.1 689.0 1108.4 689.1 C1109.8 689.2 1111.1 689.2 1112.4 689.3 C1113.8 689.4 1115.1 689.4 1116.4 689.5 C1117.8 689.6 1119.1 689.7 1120.4 689.8 C1121.8 689.9 1123.1 690.0 1124.4 690.1 C1125.8 690.2 1127.1 690.3 1128.4 690.4 C1129.7 690.5 1131.1 690.6 1132.4 690.7 C1133.7 690.8 1135.1 691.0 1136.4 691.1 C1137.7 691.2 1139.0 691.4 1140.4 691.5 C1141.7 691.7 1143.0 691.8 1144.3 692.0 C1145.7 692.2 1147.0 692.3 1148.3 692.5 C1149.6 692.7 1151.0 692.9 1152.3 693.1 C1153.6 693.3 1154.9 693.5 1156.2 693.7 C1157.6 693.9 1158.9 694.1 1160.2 694.3 C1161.5 694.5 1162.8 694.8 1164.1 695.0 C1165.4 695.3 1166.8 695.5 1168.1 695.8 C1169.4 696.0 1170.7 696.3 1172.0 696.6 C1173.3 696.8 1174.6 697.1 1175.9 697.4 C1177.2 697.7 1178.5 698.0 1179.8 698.4 C1181.1 698.7 1182.4 699.0 1183.7 699.3 C1185.0 699.7 1186.3 700.0 1187.5 700.4 C1188.8 700.7 1190.1 701.1 1191.4 701.5 C1192.7 701.9 1193.9 702.3 1195.2 702.7 C1196.5 703.1 1197.8 703.5 1199.0 703.9 C1200.3 704.4 1201.5 704.8 1202.8 705.3 C1204.1 705.7 1205.3 706.2 1206.5 706.7 C1207.8 707.1 1209.0 707.6 1210.3 708.1 C1211.5 708.6 1212.7 709.2 1214.0 709.7 C1215.2 710.2 1216.4 710.8 1217.6 711.3 C1218.8 711.9 1220.0 712.5 1221.2 713.0 C1222.4 713.6 1223.6 714.2 1224.8 714.8 C1226.0 715.4 1227.2 716.1 1228.4 716.7 C1229.5 717.3 1230.7 717.9 1231.9 718.6 C1233.1 719.2 1234.2 719.9 1235.4 720.5 C1236.6 721.2 1237.7 721.8 1238.9 722.5 C1240.0 723.1 1241.2 723.8 1242.4 724.5 C1243.5 725.1 1244.7 725.8 1245.9 726.4 C1247.0 727.0 1248.2 727.7 1249.4 728.3 C1250.6 728.9 1251.8 729.5 1253.0 730.1 C1254.1 730.7 1255.3 731.3 1256.5 731.9 C1257.8 732.5 1259.0 733.0 1260.2 733.6 C1261.4 734.1 1262.6 734.6 1263.9 735.1 C1265.1 735.6 1266.4 736.1 1267.6 736.5 C1268.9 737.0 1270.2 737.4 1271.4 737.8 C1272.7 738.2 1274.0 738.6 1275.3 739.0 C1276.5 739.4 1277.8 739.7 1279.1 740.1 C1280.4 740.5 1281.6 740.9 1282.9 741.3 C1284.2 741.7 1285.4 742.2 1286.7 742.6 C1288.0 743.1 1289.2 743.5 1290.5 744.0 C1291.7 744.5 1292.9 745.0 1294.2 745.5 C1295.4 746.0 1296.6 746.6 1297.8 747.1 C1299.1 747.7 1300.3 748.2 1301.5 748.8 C1302.7 749.4 1303.9 750.0 1305.0 750.6 C1306.2 751.2 1307.4 751.9 1308.6 752.5 C1309.7 753.1 1310.9 753.8 1312.1 754.5 C1313.2 755.2 1314.3 755.8 1315.5 756.6 C1316.6 757.3 1317.7 758.0 1318.9 758.7 C1320.0 759.4 1321.1 760.2 1322.2 760.9 C1323.3 761.7 1324.4 762.5 1325.4 763.3 C1326.5 764.1 1327.6 764.9 1328.6 765.7 C1329.7 766.5 1330.7 767.3 1331.8 768.2 C1332.8 769.0 1333.8 769.9 1334.8 770.7 C1335.9 771.6 1336.9 772.5 1337.9 773.4 C1338.8 774.3 1339.8 775.2 1340.8 776.1 C1341.7 777.0 1342.7 778.0 1343.6 778.9 C1344.6 779.9 1345.5 780.8 1346.4 781.8 C1347.3 782.8 1348.2 783.8 1349.1 784.8 C1350.0 785.8 1350.9 786.8 1351.7 787.8 C1352.6 788.8 1353.4 789.9 1354.2 790.9 C1355.1 792.0 1355.9 793.0 1356.7 794.1 C1357.5 795.2 1358.2 796.3 1359.0 797.4 C1359.8 798.5 1360.5 799.6 1361.2 800.7 C1361.9 801.8 1362.7 802.9 1363.3 804.1 C1364.0 805.2 1364.7 806.4 1365.4 807.5 C1366.0 808.7 1366.7 809.8 1367.3 811.0 C1368.0 812.2 1368.6 813.4 1369.2 814.6 C1369.8 815.8 1370.4 817.0 1371.0 818.2 C1371.5 819.4 1372.1 820.6 1372.6 821.8 C1373.2 823.0 1373.7 824.2 1374.2 825.5 C1374.8 826.7 1375.3 827.9 1375.8 829.2 C1376.3 830.4 1376.8 831.6 1377.2 832.9 C1377.7 834.1 1378.2 835.4 1378.6 836.6 C1379.1 837.9 1379.5 839.2 1380.0 840.4 C1380.4 841.7 1380.8 842.9 1381.2 844.2 C1381.6 845.5 1382.1 846.8 1382.4 848.0 C1382.8 849.3 1383.2 850.6 1383.6 851.9 C1384.0 853.1 1384.4 854.4 1384.7 855.7 C1385.1 857.0 1385.4 858.3 1385.8 859.6 C1386.1 860.9 1386.4 862.2 1386.8 863.5 C1387.1 864.7 1387.4 866.0 1387.7 867.3 C1388.1 868.6 1388.4 869.9 1388.7 871.2 C1389.0 872.5 1389.3 873.8 1389.6 875.1 C1389.8 876.4 1390.1 877.7 1390.4 879.1 C1390.7 880.4 1391.0 881.7 1391.2 883.0 C1391.5 884.3 1391.7 885.6 1392.0 886.9 C1392.3 888.2 1392.5 889.5 1392.8 890.8 C1393.0 892.1 1393.3 893.5 1393.5 894.8 C1393.7 896.1 1394.0 897.4 1394.2 898.7 C1394.4 900.0 1394.7 901.3 1394.9 902.7 C1395.1 904.0 1395.3 905.3 1395.6 906.6 C1395.8 907.9 1396.0 909.2 1396.2 910.6 C1396.4 911.9 1396.6 913.2 1396.8 914.5 C1397.1 915.8 1397.3 917.1 1397.5 918.5 C1397.7 919.8 1397.9 921.1 1398.1 922.4 C1398.3 923.7 1398.5 925.1 1398.7 926.4 C1398.9 927.7 1399.1 929.0 1399.3 930.3 C1399.5 931.6 1399.7 933.0 1399.9 934.3 C1400.1 935.6 1400.3 936.9 1400.5 938.2 C1400.7 939.6 1401.0 940.9 1401.2 942.2 C1401.4 943.5 1401.6 944.8 1401.8 946.2 C1402.0 947.5 1402.2 948.8 1402.4 950.1 C1402.6 951.4 1402.8 952.7 1403.1 954.1 C1403.3 955.4 1403.5 956.7 1403.7 958.0 C1403.9 959.3 1404.2 960.6 1404.4 962.0 C1404.6 963.3 1405.0 965.2 1405.1 965.9" fill="none" stroke="#000" stroke-width="4.20" stroke-linejoin="round" stroke-linecap="round"/>
<path d="M293.0 25.0 C293.1 25.7 293.2 27.7 293.3 29.0 C293.4 30.3 293.5 31.7 293.6 33.0 C293.7 34.3 293.8 35.6 294.0 37.0 C294.1 38.3 294.2 39.6 294.3 41.0 C294.4 42.3 294.5 43.6 294.6 45.0 C294.7 46.3 294.8 47.6 294.9 48.9 C295.0 50.3 295.1 51.6 295.2 52.9 C295.3 54.3 295.4 55.6 295.4 56.9 C295.5 58.3 295.6 59.6 295.7 60.9 C295.8 62.3 295.9 63.6 296.0 64.9 C296.1 66.3 296.2 67.6 296.3 68.9 C296.4 70.2 296.5 71.6 296.6 72.9 C296.7 74.2 296.8 75.6 296.9 76.9 C297.0 78.2 297.1 79.6 297.2 80.9 C297.3 82.2 297.4 83.6 297.5 84.9 C297.6 86.2 297.7 87.5 297.8 88.9 C297.9 90.2 298.0 91.5 298.1 92.9 C298.2 94.2 298.3 95.5 298.4 96.9 C298.5 98.2 298.6 99.5 298.8 100.9 C298.9 102.2 299.0 103.5 299.1 104.8 C299.2 106.2 299.3 107.5 299.4 108.8 C299.5 110.2 299.6 111.5 299.8 112.8 C299.9 114.1 300.0 115.5 300.1 116.8 C300.2 118.1 300.3 119.5 300.5 120.8 C300.6 122.1 300.7 123.5 300.8 124.8 C301.0 126.1 301.1 127.4 301.2 128.8 C301.4 130.1 301.5 131.4 301.6 132.8 C301.8 134.1 301.9 135.4 302.0 136.7 C302.2 138.1 302.3 139.4 302.4 140.7 C302.6 142.0 302.7 143.4 302.9 144.7 C303.0 146.0 303.2 147.3 303.3 148.7 C303.5 150.0 303.6 151.3 303.8 152.6 C304.0 154.0 304.1 155.3 304.3 156.6 C304.4 157.9 304.6 159.3 304.8 160.6 C305.0 161.9 305.1 163.2 305.3 164.6 C305.5 165.9 305.7 167.2 305.8 168.5 C306.0 169.9 306.2 171.2 306.4 172.5 C306.6 173.8 306.7 175.1 306.9 176.5 C307.2 177.8 307.3 179.2 307.9 180.4 C308.5 181.5 309.6 182.5 310.6 183.2 C311.7 184.0 313.0 184.4 314.3 184.9 C315.5 185.4 316.8 185.7 318.1 186.1 C319.4 186.4 320.7 186.8 321.9 187.2 C323.2 187.6 324.5 188.1 325.7 188.5 C327.0 189.0 328.2 189.4 329.5 189.9 C330.7 190.4 332.0 190.9 333.2 191.4 C334.4 191.9 335.6 192.5 336.8 193.0 C338.1 193.6 339.3 194.2 340.4 194.8 C341.6 195.4 342.8 196.0 344.0 196.6 C345.2 197.3 346.3 197.9 347.5 198.6 C348.6 199.3 349.7 200.0 350.9 200.8 C352.0 201.5 353.1 202.2 354.2 203.0 C355.3 203.8 356.3 204.6 357.4 205.4 C358.4 206.2 359.5 207.0 360.5 207.9 C361.5 208.8 362.5 209.6 363.5 210.5 C364.5 211.4 365.5 212.4 366.4 213.3 C367.3 214.3 368.2 215.2 369.1 216.2 C370.0 217.2 370.9 218.2 371.8 219.3 C372.6 220.3 373.4 221.3 374.3 222.4 C375.1 223.5 375.9 224.5 376.6 225.6 C377.4 226.7 378.2 227.8 378.9 228.9 C379.6 230.0 380.4 231.2 381.1 232.3 C381.8 233.4 382.5 234.6 383.1 235.7 C383.8 236.9 384.4 238.0 385.1 239.2 C385.7 240.4 386.4 241.6 387.0 242.7 C387.6 243.9 388.2 245.1 388.8 246.3 C389.4 247.5 389.9 248.7 390.5 249.9 C391.1 251.1 391.6 252.4 392.1 253.6 C392.7 254.8 393.2 256.0 393.7 257.3 C394.3 258.5 394.8 259.7 395.3 261.0 C395.8 262.2 396.3 263.4 396.8 264.7 C397.2 265.9 397.7 267.2 398.2 268.4 C398.7 269.7 399.1 270.9 399.6 272.2 C400.1 273.4 400.5 274.7 401.0 275.9 C401.4 277.2 401.9 278.4 402.3 279.7 C402.8 280.9 403.2 282.2 403.6 283.5 C404.1 284.7 404.5 286.0 404.9 287.2 C405.4 288.5 405.8 289.8 406.3 291.0 C406.7 292.3 407.1 293.6 407.6 294.8 C408.0 296.1 408.4 297.3 408.9 298.6 C409.3 299.9 409.8 301.1 410.2 302.4 C410.6 303.6 411.1 304.9 411.5 306.2 C412.0 307.4 412.4 308.7 412.8 309.9 C413.3 311.2 413.7 312.5 414.2 313.7 C414.6 315.0 415.1 316.2 415.5 317.5 C416.0 318.7 416.4 320.0 416.9 321.2 C417.3 322.5 417.8 323.8 418.2 325.0 C418.7 326.3 419.1 327.5 419.6 328.8 C420.0 330.0 420.5 331.3 421.0 332.5 C421.4 333.8 421.9 335.1 422.3 336.3 C422.8 337.6 423.2 338.8 423.7 340.1 C424.2 341.3 424.6 342.6 425.1 343.8 C425.5 345.1 426.0 346.3 426.5 347.6 C426.9 348.8 427.4 350.1 427.8 351.3 C428.3 352.6 428.8 353.8 429.2 355.1 C429.7 356.3 430.2 357.6 430.6 358.8 C431.1 360.1 431.6 361.4 432.0 362.6 C432.5 363.9 433.0 365.1 433.4 366.4 C433.9 367.6 434.4 368.9 434.8 370.1 C435.3 371.4 435.8 372.6 436.2 373.9 C436.7 375.1 437.2 376.3 437.6 377.6 C438.1 378.8 438.6 380.1 439.1 381.3 C439.5 382.6 440.0 383.8 440.5 385.1 C440.9 386.3 441.4 387.6 441.9 388.8 C442.4 390.1 442.8 391.3 443.3 392.6 C443.8 393.8 444.2 395.1 444.7 396.3 C445.2 397.6 445.7 398.8 446.1 400.1 C446.6 401.3 447.1 402.6 447.6 403.8 C448.1 405.0 448.5 406.3 449.0 407.5 C449.5 408.8 450.0 410.0 450.5 411.2 C451.1 412.5 451.6 413.7 452.1 414.9 C452.7 416.1 453.2 417.4 453.8 418.6 C454.3 419.8 454.9 421.0 455.5 422.2 C456.0 423.4 456.6 424.6 457.2 425.8 C457.8 427.0 458.4 428.2 459.0 429.4 C459.6 430.6 460.1 431.8 460.7 433.0 C461.3 434.2 461.9 435.4 462.5 436.6 C463.0 437.8 463.6 439.0 464.1 440.2 C464.7 441.4 465.2 442.7 465.8 443.9 C466.3 445.1 466.8 446.3 467.4 447.6 C467.9 448.8 468.4 450.0 468.9 451.3 C469.4 452.5 469.9 453.7 470.4 455.0 C470.9 456.2 471.4 457.4 471.9 458.7 C472.4 459.9 472.9 461.2 473.4 462.4 C473.8 463.7 474.3 464.9 474.8 466.2 C475.3 467.4 475.7 468.6 476.2 469.9 C476.7 471.1 477.1 472.4 477.6 473.6 C478.1 474.9 478.5 476.2 479.0 477.4 C479.5 478.7 479.9 479.9 480.4 481.2 C480.9 482.4 481.3 483.7 481.8 484.9 C482.2 486.2 482.7 487.4 483.2 488.7 C483.7 489.9 484.1 491.2 484.6 492.4 C485.1 493.7 485.5 494.9 486.0 496.1 C486.5 497.4 487.0 498.7 487.7 499.8 C488.4 500.9 489.3 501.9 490.4 502.7 C491.4 503.5 492.8 503.9 494.1 504.4 C495.3 505.0 496.6 505.4 497.8 505.9 C499.0 506.4 500.3 506.9 501.4 507.5 C502.6 508.1 503.8 508.8 504.9 509.5 C506.1 510.1 507.2 510.8 508.4 511.5 C509.6 512.1 510.8 512.7 511.9 513.3 C513.1 513.9 514.3 514.5 515.5 515.0 C516.8 515.6 518.0 516.2 519.2 516.7 C520.4 517.2 521.7 517.7 522.9 518.2 C524.1 518.7 525.4 519.2 526.7 519.6 C527.9 520.1 529.2 520.5 530.4 520.9 C531.7 521.3 533.0 521.7 534.3 522.1 C535.5 522.5 536.8 522.8 538.1 523.2 C539.4 523.6 540.7 523.9 542.0 524.2 C543.3 524.6 544.6 524.9 545.9 525.2 C547.2 525.5 548.5 525.8 549.8 526.1 C551.1 526.4 552.4 526.7 553.7 527.0 C555.0 527.3 556.3 527.5 557.6 527.8 C558.9 528.1 560.2 528.3 561.5 528.6 C562.8 528.8 564.1 529.0 565.5 529.3 C566.8 529.5 568.1 529.7 569.4 530.0 C570.7 530.2 572.0 530.4 573.4 530.6 C574.7 530.8 576.0 531.0 577.3 531.2 C578.6 531.4 580.0 531.6 581.3 531.8 C582.6 532.0 583.9 532.1 585.2 532.3 C586.6 532.5 587.9 532.7 589.2 532.8 C590.5 533.0 591.9 533.1 593.2 533.3 C594.5 533.5 595.8 533.6 597.2 533.8 C598.5 533.9 599.8 534.1 601.1 534.2 C602.5 534.3 603.8 534.5 605.1 534.6 C606.5 534.8 607.8 534.9 609.1 535.0 C610.4 535.2 611.8 535.3 613.1 535.4 C614.4 535.5 615.8 535.7 617.1 535.8 C618.4 535.9 619.7 536.0 621.1 536.2 C622.4 536.3 623.7 536.4 625.1 536.5 C626.4 536.7 627.7 536.8 629.0 536.9 C630.4 537.0 631.7 537.1 633.0 537.3 C634.4 537.4 635.7 537.5 637.0 537.6 C638.3 537.7 639.7 537.9 641.0 538.0 C642.3 538.1 643.7 538.2 645.0 538.4 C646.3 538.5 647.6 538.6 649.0 538.8 C650.3 538.9 651.6 539.0 653.0 539.1 C654.3 539.3 655.6 539.4 656.9 539.6 C658.3 539.7 659.6 539.8 660.9 540.0 C662.2 540.1 663.6 540.3 664.9 540.4 C666.2 540.6 667.6 540.7 668.9 540.9 C670.2 541.0 671.5 541.2 672.9 541.3 C674.2 541.5 675.5 541.7 676.8 541.8 C678.2 542.0 679.5 542.2 680.8 542.4 C682.1 542.5 683.4 542.7 684.8 542.9 C686.1 543.1 687.4 543.3 688.7 543.5 C690.0 543.7 691.4 543.9 692.7 544.1 C694.0 544.3 695.3 544.5 696.6 544.7 C698.0 544.9 699.3 545.1 700.6 545.3 C701.9 545.5 703.2 545.8 704.5 546.0 C705.9 546.2 707.2 546.5 708.5 546.7 C709.8 547.0 711.1 547.2 712.4 547.5 C713.7 547.7 715.0 548.0 716.3 548.2 C717.6 548.5 719.0 548.8 720.3 549.1 C721.6 549.3 722.9 549.6 724.2 549.9 C725.5 550.2 726.8 550.5 728.1 550.8 C729.4 551.1 730.7 551.4 732.0 551.7 C733.3 552.0 734.6 552.4 735.9 552.7 C737.1 553.0 738.4 553.4 739.7 553.7 C741.0 554.0 742.3 554.4 743.6 554.8 C744.9 555.1 746.2 555.5 747.4 555.9 C748.7 556.2 750.0 556.6 751.3 557.0 C752.5 557.4 753.8 557.8 755.1 558.2 C756.4 558.6 757.6 559.0 758.9 559.5 C760.2 559.9 761.4 560.3 762.7 560.8 C763.9 561.2 765.2 561.7 766.5 562.1 C767.7 562.6 769.0 563.0 770.2 563.5 C771.4 564.0 772.7 564.5 773.9 565.0 C775.1 565.5 776.4 566.1 777.6 566.6 C778.8 567.2 780.0 567.7 781.2 568.3 C782.4 568.9 783.6 569.5 784.8 570.1 C786.0 570.7 787.1 571.4 788.3 572.0 C789.5 572.7 790.6 573.4 791.7 574.1 C792.9 574.8 794.0 575.5 795.1 576.3 C796.2 577.0 797.3 577.8 798.4 578.6 C799.4 579.4 800.5 580.2 801.5 581.1 C802.5 581.9 803.5 582.8 804.5 583.7 C805.5 584.6 806.5 585.5 807.4 586.5 C808.4 587.4 809.3 588.4 810.2 589.4 C811.1 590.3 811.9 591.4 812.8 592.4 C813.6 593.4 814.5 594.5 815.3 595.5 C816.1 596.6 816.9 597.7 817.6 598.8 C818.4 599.9 819.1 601.0 819.9 602.1 C820.6 603.2 821.3 604.4 821.9 605.5 C822.6 606.7 823.3 607.8 823.9 609.0 C824.5 610.2 825.1 611.4 825.7 612.6 C826.3 613.8 826.9 615.0 827.4 616.2 C828.0 617.4 828.5 618.6 829.0 619.9 C829.5 621.1 830.0 622.3 830.5 623.6 C831.0 624.8 831.5 626.1 832.0 627.3 C832.5 628.6 832.9 629.8 833.4 631.1 C833.8 632.3 834.3 633.6 834.7 634.8 C835.2 636.1 835.6 637.3 836.1 638.6 C836.5 639.9 836.9 641.1 837.4 642.4 C837.8 643.6 838.3 644.9 838.7 646.2 C839.2 647.4 839.6 648.7 840.1 649.9 C840.5 651.2 841.0 652.4 841.5 653.7 C842.0 654.9 842.4 656.2 842.9 657.4 C843.4 658.6 843.9 659.9 844.5 661.1 C845.0 662.3 845.5 663.5 846.1 664.7 C846.7 665.9 847.3 667.1 848.0 668.3 C848.7 669.4 849.4 670.6 850.3 671.6 C851.2 672.5 852.2 673.5 853.4 674.2 C854.5 674.8 855.9 675.3 857.2 675.5 C858.5 675.7 859.8 675.4 861.2 675.3 C862.5 675.2 863.8 675.0 865.2 674.9 C866.5 674.7 867.8 674.6 869.2 674.5 C870.5 674.5 871.8 674.4 873.2 674.3 C874.5 674.3 875.8 674.3 877.2 674.2 C878.5 674.2 879.8 674.2 881.2 674.2 C882.5 674.2 883.8 674.2 885.2 674.2 C886.5 674.2 887.8 674.2 889.2 674.2 C890.5 674.2 891.8 674.2 893.2 674.2 C894.5 674.2 895.8 674.2 897.2 674.2 C898.5 674.2 899.8 674.3 901.2 674.3 C902.5 674.3 903.8 674.3 905.2 674.3 C906.5 674.3 907.8 674.4 909.2 674.4 C910.5 674.4 911.9 674.4 913.2 674.5 C914.5 674.5 915.9 674.5 917.2 674.5 C918.5 674.6 919.9 674.6 921.2 674.6 C922.5 674.6 923.9 674.7 925.2 674.7 C926.5 674.7 927.9 674.8 929.2 674.8 C930.5 674.8 931.9 674.9 933.2 674.9 C934.5 675.0 935.9 675.0 937.2 675.0 C938.5 675.1 939.9 675.1 941.2 675.2 C942.5 675.2 943.9 675.2 945.2 675.3 C946.5 675.3 947.9 675.4 949.2 675.4 C950.5 675.5 951.9 675.5 953.2 675.6 C954.5 675.6 955.9 675.7 957.2 675.7 C958.5 675.8 959.9 675.8 961.2 675.8 C962.5 675.9 963.9 675.9 965.2 676.0 C966.5 676.0 967.9 676.1 969.2 676.1 C970.5 676.2 971.9 676.2 973.2 676.3 C974.5 676.4 975.9 676.4 977.2 676.5 C978.5 676.5 979.9 676.6 981.2 676.6 C982.5 676.7 983.9 676.7 985.2 676.8 C986.5 676.8 987.9 676.9 989.2 676.9 C990.5 677.0 991.9 677.0 993.2 677.1 C994.5 677.1 995.9 677.2 997.2 677.2 C998.5 677.3 999.9 677.3 1001.2 677.4 C1002.5 677.4 1003.9 677.5 1005.2 677.5 C1006.5 677.6 1007.9 677.6 1009.2 677.7 C1010.5 677.8 1011.9 677.8 1013.2 677.8 C1014.5 677.9 1015.9 677.9 1017.2 678.0 C1018.6 678.0 1019.9 678.1 1021.2 678.1 C1022.6 678.2 1023.9 678.2 1025.2 678.3 C1026.6 678.3 1027.9 678.4 1029.2 678.4 C1030.6 678.5 1031.9 678.5 1033.2 678.5 C1034.6 678.6 1035.9 678.6 1037.2 678.7 C1038.6 678.7 1039.9 678.7 1041.2 678.8 C1042.6 678.8 1043.9 678.9 1045.2 678.9 C1046.6 678.9 1047.9 679.0 1049.2 679.0 C1050.6 679.0 1051.9 679.1 1053.2 679.1 C1054.6 679.1 1055.9 679.2 1057.2 679.2 C1058.6 679.3 1059.9 679.3 1061.2 679.3 C1062.6 679.4 1063.9 679.4 1065.2 679.4 C1066.6 679.5 1067.9 679.5 1069.2 679.5 C1070.6 679.6 1071.9 679.6 1073.2 679.7 C1074.6 679.7 1075.9 679.8 1077.2 679.8 C1078.6 679.8 1079.9 679.9 1081.2 679.9 C1082.6 680.0 1083.9 680.0 1085.2 680.1 C1086.6 680.1 1087.9 680.2 1089.2 680.2 C1090.6 680.3 1091.9 680.4 1093.2 680.4 C1094.6 680.5 1095.9 680.6 1097.2 680.6 C1098.6 680.7 1099.9 680.8 1101.2 680.8 C1102.6 680.9 1103.9 681.0 1105.2 681.1 C1106.6 681.1 1107.9 681.2 1109.2 681.3 C1110.6 681.4 1111.9 681.5 1113.2 681.6 C1114.6 681.7 1115.9 681.8 1117.2 681.9 C1118.5 682.0 1119.9 682.1 1121.2 682.3 C1122.5 682.4 1123.9 682.5 1125.2 682.7 C1126.5 682.8 1127.8 683.0 1129.2 683.2 C1130.5 683.3 1131.8 683.5 1133.1 683.7 C1134.5 683.9 1135.8 684.1 1137.1 684.4 C1138.4 684.6 1139.7 684.8 1141.0 685.1 C1142.3 685.4 1143.6 685.6 1144.9 685.9 C1146.2 686.2 1147.5 686.5 1148.8 686.9 C1150.1 687.2 1151.4 687.5 1152.7 687.9 C1154.0 688.3 1155.3 688.6 1156.5 689.0 C1157.8 689.4 1159.1 689.8 1160.4 690.2 C1161.6 690.6 1162.9 691.1 1164.1 691.5 C1165.4 692.0 1166.7 692.4 1167.9 692.9 C1169.2 693.3 1170.4 693.8 1171.7 694.3 C1172.9 694.8 1174.1 695.3 1175.4 695.8 C1176.6 696.3 1177.8 696.8 1179.1 697.3 C1180.3 697.8 1181.5 698.4 1182.8 698.9 C1184.0 699.4 1185.2 700.0 1186.4 700.5 C1187.6 701.1 1188.8 701.7 1190.0 702.2 C1191.2 702.8 1192.4 703.4 1193.6 703.9 C1194.8 704.5 1196.0 705.1 1197.2 705.7 C1198.4 706.3 1199.6 706.9 1200.8 707.5 C1202.0 708.1 1203.2 708.7 1204.4 709.3 C1205.6 709.9 1206.8 710.6 1207.9 711.2 C1209.1 711.8 1210.3 712.4 1211.5 713.0 C1212.7 713.7 1213.8 714.3 1215.0 714.9 C1216.2 715.5 1217.4 716.2 1218.6 716.8 C1219.7 717.4 1220.9 718.0 1222.1 718.7 C1223.3 719.3 1224.4 719.9 1225.6 720.5 C1226.8 721.2 1228.0 721.8 1229.2 722.4 C1230.3 723.1 1231.5 723.7 1232.7 724.3 C1233.9 724.9 1235.0 725.6 1236.2 726.2 C1237.4 726.8 1238.6 727.5 1239.7 728.1 C1240.9 728.8 1242.1 729.4 1243.2 730.0 C1244.4 730.7 1245.6 731.3 1246.8 732.0 C1247.9 732.6 1249.1 733.3 1250.2 733.9 C1251.4 734.6 1252.6 735.2 1253.7 735.9 C1254.9 736.6 1256.0 737.2 1257.2 737.9 C1258.3 738.6 1259.5 739.3 1260.6 740.0 C1261.8 740.6 1262.9 741.3 1264.1 742.0 C1265.2 742.7 1266.3 743.4 1267.5 744.1 C1268.6 744.8 1269.7 745.6 1270.8 746.3 C1272.0 747.0 1273.1 747.7 1274.2 748.5 C1275.3 749.2 1276.4 749.9 1277.5 750.7 C1278.6 751.4 1279.7 752.2 1280.8 753.0 C1281.9 753.7 1283.0 754.5 1284.1 755.3 C1285.2 756.1 1286.3 756.8 1287.3 757.6 C1288.4 758.4 1289.5 759.2 1290.5 760.0 C1291.6 760.9 1292.6 761.7 1293.7 762.5 C1294.8 763.3 1295.8 764.1 1296.9 765.0 C1297.9 765.8 1298.9 766.6 1300.0 767.4 C1301.0 768.3 1302.1 769.1 1303.1 770.0 C1304.1 770.8 1305.2 771.6 1306.2 772.5 C1307.3 773.3 1308.3 774.2 1309.3 775.0 C1310.4 775.8 1311.4 776.7 1312.4 777.5 C1313.5 778.4 1314.5 779.2 1315.5 780.1 C1316.6 780.9 1317.6 781.7 1318.6 782.6 C1319.7 783.4 1320.7 784.3 1321.7 785.1 C1322.8 785.9 1323.8 786.8 1324.9 787.6 C1325.9 788.5 1326.9 789.3 1328.0 790.1 C1329.0 791.0 1330.1 791.8 1331.1 792.6 C1332.1 793.5 1333.2 794.3 1334.2 795.2 C1335.2 796.0 1336.3 796.8 1337.3 797.7 C1338.3 798.5 1339.4 799.4 1340.4 800.2 C1341.4 801.1 1342.5 801.9 1343.5 802.8 C1344.5 803.7 1345.5 804.5 1346.5 805.4 C1347.6 806.2 1348.6 807.1 1349.6 808.0 C1350.6 808.9 1351.6 809.7 1352.6 810.6 C1353.6 811.5 1354.6 812.4 1355.6 813.3 C1356.6 814.2 1357.6 815.1 1358.6 816.0 C1359.5 816.9 1360.5 817.8 1361.5 818.7 C1362.5 819.6 1363.4 820.5 1364.4 821.5 C1365.3 822.4 1366.3 823.3 1367.2 824.3 C1368.2 825.2 1369.1 826.2 1370.0 827.1 C1371.0 828.1 1371.9 829.1 1372.8 830.0 C1373.7 831.0 1374.6 832.0 1375.5 833.0 C1376.4 834.0 1377.2 835.0 1378.1 836.0 C1379.0 837.1 1379.8 838.1 1380.6 839.1 C1381.5 840.2 1382.3 841.2 1383.1 842.3 C1383.9 843.3 1384.7 844.4 1385.5 845.5 C1386.3 846.6 1387.1 847.6 1387.8 848.7 C1388.6 849.8 1389.3 851.0 1390.0 852.1 C1390.8 853.2 1391.5 854.3 1392.1 855.5 C1392.8 856.6 1393.5 857.8 1394.2 858.9 C1394.8 860.1 1395.5 861.3 1396.1 862.4 C1396.7 863.6 1397.3 864.8 1397.9 866.0 C1398.5 867.2 1399.1 868.4 1399.7 869.6 C1400.3 870.8 1400.8 872.0 1401.4 873.2 C1401.9 874.4 1402.5 875.7 1403.0 876.9 C1403.5 878.1 1404.0 879.4 1404.5 880.6 C1405.0 881.8 1405.5 883.1 1406.0 884.3 C1406.4 885.6 1406.9 886.8 1407.3 888.1 C1407.8 889.3 1408.2 890.6 1408.7 891.9 C1409.1 893.1 1409.5 894.4 1409.9 895.7 C1410.3 896.9 1410.7 898.2 1411.1 899.5 C1411.5 900.8 1411.9 902.1 1412.2 903.3 C1412.6 904.6 1413.0 905.9 1413.3 907.2 C1413.7 908.5 1414.0 909.8 1414.3 911.1 C1414.7 912.4 1415.0 913.6 1415.3 914.9 C1415.6 916.2 1416.0 917.5 1416.3 918.8 C1416.6 920.1 1416.9 921.4 1417.2 922.7 C1417.5 924.0 1417.7 925.3 1418.0 926.6 C1418.3 928.0 1418.6 929.3 1418.9 930.6 C1419.1 931.9 1419.4 933.2 1419.7 934.5 C1419.9 935.8 1420.2 937.1 1420.5 938.4 C1420.7 939.7 1421.0 941.0 1421.2 942.3 C1421.5 943.6 1421.8 945.0 1422.0 946.3 C1422.3 947.6 1422.5 948.9 1422.8 950.2 C1423.0 951.5 1423.3 952.8 1423.5 954.1 C1423.8 955.4 1424.1 956.7 1424.3 958.1 C1424.6 959.4 1424.8 960.7 1425.1 962.0 C1425.4 963.3 1425.8 965.2 1425.9 965.9" fill="none" stroke="#2a24cf" stroke-width="4.20" stroke-linejoin="round" stroke-linecap="round"/>
</g>
<line x1="392.6" y1="25.5" x2="392.6" y2="1005.0" stroke="#dbdbdb" stroke-width="2.8"/>
<line x1="554.7" y1="25.5" x2="554.7" y2="1005.0" stroke="#dbdbdb" stroke-width="2.8"/>
<line x1="715.8" y1="25.5" x2="715.8" y2="1005.0" stroke="#dbdbdb" stroke-width="2.8"/>
<line x1="877.8" y1="25.5" x2="877.8" y2="1005.0" stroke="#dbdbdb" stroke-width="2.8"/>
<line x1="1039.9" y1="25.5" x2="1039.9" y2="1005.0" stroke="#dbdbdb" stroke-width="2.8"/>
<line x1="1201.7" y1="25.5" x2="1201.7" y2="1005.0" stroke="#dbdbdb" stroke-width="2.8"/>
<line x1="1363.3" y1="25.5" x2="1363.3" y2="1005.0" stroke="#dbdbdb" stroke-width="2.8"/>
<line x1="231.4" y1="221.8" x2="1524.7" y2="221.8" stroke="#dbdbdb" stroke-width="2.8"/>
<line x1="231.4" y1="416.1" x2="1524.7" y2="416.1" stroke="#e9e9e9" stroke-width="1.7"/>
<line x1="231.4" y1="613.3" x2="1524.7" y2="613.3" stroke="#e6e6e6" stroke-width="1.9"/>
<line x1="231.4" y1="809.6" x2="1524.7" y2="809.6" stroke="#dbdbdb" stroke-width="2.8"/>
<rect x="231.4" y="25.5" width="1293.3" height="979.5" fill="none" stroke="#000" stroke-width="6.2" stroke-linejoin="round"/>
<line x1="231.4" y1="1005.0" x2="231.4" y2="1019.8" stroke="#000" stroke-width="6.2" stroke-linecap="round"/>
<line x1="393.1" y1="1005.0" x2="393.1" y2="1019.8" stroke="#000" stroke-width="6.2" stroke-linecap="round"/>
<line x1="554.7" y1="1005.0" x2="554.7" y2="1019.8" stroke="#000" stroke-width="6.2" stroke-linecap="round"/>
<line x1="716.4" y1="1005.0" x2="716.4" y2="1019.8" stroke="#000" stroke-width="6.2" stroke-linecap="round"/>
<line x1="878.0" y1="1005.0" x2="878.0" y2="1019.8" stroke="#000" stroke-width="6.2" stroke-linecap="round"/>
<line x1="1039.7" y1="1005.0" x2="1039.7" y2="1019.8" stroke="#000" stroke-width="6.2" stroke-linecap="round"/>
<line x1="1201.4" y1="1005.0" x2="1201.4" y2="1019.8" stroke="#000" stroke-width="6.2" stroke-linecap="round"/>
<line x1="1363.0" y1="1005.0" x2="1363.0" y2="1019.8" stroke="#000" stroke-width="6.2" stroke-linecap="round"/>
<line x1="1524.7" y1="1005.0" x2="1524.7" y2="1019.8" stroke="#000" stroke-width="6.2" stroke-linecap="round"/>
<line x1="215.2" y1="25.5" x2="231.4" y2="25.5" stroke="#000" stroke-width="6.0" stroke-linecap="round"/>
<line x1="215.2" y1="221.4" x2="231.4" y2="221.4" stroke="#000" stroke-width="6.0" stroke-linecap="round"/>
<line x1="215.2" y1="417.3" x2="231.4" y2="417.3" stroke="#000" stroke-width="6.0" stroke-linecap="round"/>
<line x1="215.2" y1="613.2" x2="231.4" y2="613.2" stroke="#000" stroke-width="6.0" stroke-linecap="round"/>
<line x1="215.2" y1="809.1" x2="231.4" y2="809.1" stroke="#000" stroke-width="6.0" stroke-linecap="round"/>
<line x1="215.2" y1="1005.0" x2="231.4" y2="1005.0" stroke="#000" stroke-width="6.0" stroke-linecap="round"/>
<g clip-path="url(#pc)">
<path d="M231.6 936.0 C231.6 935.3 231.5 933.3 231.5 932.0 C231.4 930.7 231.4 929.3 231.3 928.0 C231.3 926.7 231.3 925.3 231.2 924.0 C231.2 922.7 231.2 921.3 231.2 920.0 C231.2 918.6 231.1 917.3 231.1 916.0 C231.1 914.6 231.1 913.3 231.1 912.0 C231.1 910.6 231.1 909.3 231.1 908.0 C231.1 906.6 231.1 905.3 231.1 904.0 C231.2 902.6 231.2 901.3 231.2 900.0 C231.2 898.6 231.2 897.3 231.3 896.0 C231.3 894.6 231.3 893.3 231.3 891.9 C231.4 890.6 231.4 889.3 231.4 887.9 C231.5 886.6 231.5 885.3 231.6 883.9 C231.6 882.6 231.7 881.3 231.7 879.9 C231.8 878.6 231.8 877.3 231.9 875.9 C231.9 874.6 232.0 873.3 232.0 871.9 C232.1 870.6 232.2 869.3 232.2 867.9 C232.3 866.6 232.4 865.3 232.4 863.9 C232.5 862.6 232.6 861.3 232.7 859.9 C232.7 858.6 232.8 857.3 232.9 855.9 C233.0 854.6 233.1 853.3 233.1 851.9 C233.2 850.6 233.3 849.3 233.4 847.9 C233.5 846.6 233.6 845.3 233.7 843.9 C233.8 842.6 233.9 841.3 234.0 839.9 C234.1 838.6 234.2 837.3 234.3 836.0 C234.4 834.6 234.5 833.3 234.6 832.0 C234.7 830.6 234.8 829.3 234.9 828.0 C235.0 826.6 235.1 825.3 235.2 824.0 C235.3 822.6 235.4 821.3 235.5 820.0 C235.6 818.7 235.7 817.3 235.9 816.0 C236.0 814.7 236.1 813.3 236.2 812.0 C236.3 810.7 236.4 809.3 236.5 808.0 C236.7 806.7 236.8 805.3 236.9 804.0 C237.0 802.7 237.1 801.4 237.2 800.0 C237.4 798.7 237.5 797.4 237.6 796.0 C237.7 794.7 237.9 793.4 238.0 792.1 C238.1 790.7 238.2 789.4 238.4 788.1 C238.5 786.7 238.6 785.4 238.8 784.1 C238.9 782.7 239.0 781.4 239.2 780.1 C239.3 778.8 239.4 777.4 239.6 776.1 C239.7 774.8 239.8 773.5 240.0 772.1 C240.1 770.8 240.3 769.5 240.4 768.1 C240.6 766.8 240.7 765.5 240.9 764.2 C241.0 762.8 241.2 761.5 241.3 760.2 C241.5 758.9 241.7 757.5 241.8 756.2 C242.0 754.9 242.2 753.6 242.3 752.2 C242.5 750.9 242.7 749.6 242.8 748.3 C243.0 746.9 243.2 745.6 243.4 744.3 C243.6 743.0 243.7 741.6 243.9 740.3 C244.1 739.0 244.3 737.7 244.5 736.4 C244.7 735.0 244.9 733.7 245.1 732.4 C245.3 731.1 245.5 729.8 245.7 728.4 C245.9 727.1 246.1 725.8 246.3 724.5 C246.6 723.2 246.8 721.9 247.0 720.5 C247.2 719.2 247.5 717.9 247.7 716.6 C247.9 715.3 248.1 714.0 248.4 712.6 C248.6 711.3 248.9 710.0 249.1 708.7 C249.4 707.4 249.6 706.1 249.9 704.8 C250.1 703.5 250.4 702.2 250.7 700.8 C250.9 699.5 251.2 698.2 251.5 696.9 C251.8 695.6 252.1 694.3 252.4 693.0 C252.7 691.7 253.0 690.4 253.3 689.1 C253.6 687.8 254.0 686.5 254.3 685.3 C254.7 684.0 255.1 682.7 255.5 681.4 C255.9 680.1 256.3 678.9 256.7 677.6 C257.2 676.4 257.6 675.1 258.1 673.9 C258.6 672.6 259.1 671.4 259.7 670.2 C260.2 669.0 260.8 667.7 261.4 666.6 C262.0 665.4 262.7 664.2 263.4 663.0 C264.0 661.9 264.7 660.8 265.5 659.7 C266.2 658.5 267.0 657.5 267.8 656.4 C268.6 655.3 269.5 654.3 270.3 653.3 C271.2 652.3 272.1 651.3 273.0 650.3 C274.0 649.4 274.9 648.4 275.9 647.5 C276.9 646.6 277.9 645.7 278.9 644.9 C279.9 644.0 281.0 643.2 282.1 642.4 C283.1 641.6 284.2 640.9 285.4 640.1 C286.5 639.4 287.6 638.7 288.8 638.1 C289.9 637.4 291.1 636.8 292.3 636.2 C293.5 635.6 294.7 635.0 296.0 634.5 C297.2 634.0 298.4 633.5 299.7 633.0 C300.9 632.5 302.2 632.1 303.5 631.7 C304.7 631.3 306.0 630.9 307.3 630.5 C308.6 630.2 309.9 629.8 311.2 629.5 C312.5 629.2 313.8 628.9 315.1 628.6 C316.4 628.3 317.7 628.1 319.0 627.8 C320.3 627.6 321.6 627.4 322.9 627.2 C324.3 627.0 325.6 626.8 326.9 626.6 C328.2 626.4 329.6 626.3 330.9 626.1 C332.2 626.0 333.5 625.8 334.9 625.7 C336.2 625.6 337.5 625.4 338.9 625.3 C340.2 625.2 341.5 625.1 342.9 625.0 C344.2 624.9 345.5 624.8 346.8 624.7 C348.2 624.6 349.5 624.5 350.8 624.5 C352.2 624.4 353.5 624.3 354.8 624.2 C356.2 624.1 357.5 624.1 358.8 624.0 C360.2 623.9 361.5 623.9 362.8 623.8 C364.2 623.8 365.5 623.7 366.8 623.7 C368.2 623.6 369.5 623.6 370.9 623.5 C372.2 623.5 373.5 623.4 374.9 623.4 C376.2 623.4 377.5 623.3 378.9 623.3 C380.2 623.3 381.5 623.2 382.9 623.2 C384.2 623.2 385.5 623.1 386.9 623.1 C388.2 623.1 389.5 623.0 390.9 623.0 C392.2 623.0 393.5 623.0 394.9 622.9 C396.2 622.9 397.5 622.9 398.9 622.9 C400.2 622.8 401.6 622.8 402.9 622.8 C404.2 622.7 405.6 622.7 406.9 622.7 C408.2 622.7 409.6 622.6 410.9 622.6 C412.2 622.6 413.6 622.5 414.9 622.5 C416.2 622.5 417.6 622.4 418.9 622.4 C420.2 622.4 421.6 622.3 422.9 622.3 C424.2 622.2 425.6 622.2 426.9 622.2 C428.2 622.1 429.6 622.1 430.9 622.0 C432.2 622.0 433.6 622.0 434.9 621.9 C436.3 621.9 437.6 621.8 438.9 621.8 C440.3 621.7 441.6 621.7 442.9 621.6 C444.3 621.6 445.6 621.5 446.9 621.5 C448.3 621.4 449.6 621.3 450.9 621.3 C452.3 621.2 453.6 621.2 454.9 621.1 C456.3 621.0 457.6 621.0 458.9 620.9 C460.3 620.9 461.6 620.8 462.9 620.7 C464.3 620.7 465.6 620.6 466.9 620.5 C468.3 620.4 469.6 620.4 470.9 620.3 C472.3 620.2 473.6 620.1 474.9 620.0 C476.3 620.0 477.6 619.9 478.9 619.8 C480.3 619.7 481.6 619.6 482.9 619.5 C484.3 619.4 485.6 619.3 486.9 619.2 C488.2 619.1 489.6 619.0 490.9 618.9 C492.2 618.8 493.6 618.7 494.9 618.6 C496.2 618.5 497.6 618.4 498.9 618.2 C500.2 618.1 501.5 618.0 502.9 617.8 C504.2 617.7 505.5 617.6 506.9 617.4 C508.2 617.3 509.5 617.1 510.8 617.0 C512.2 616.8 513.5 616.7 514.8 616.5 C516.1 616.3 517.5 616.1 518.8 616.0 C520.1 615.8 521.4 615.6 522.8 615.4 C524.1 615.2 525.4 615.0 526.7 614.8 C528.0 614.6 529.3 614.4 530.7 614.1 C532.0 613.9 533.3 613.7 534.6 613.4 C535.9 613.2 537.2 612.9 538.5 612.7 C539.9 612.4 541.2 612.2 542.5 611.9 C543.8 611.6 545.1 611.3 546.4 611.0 C547.7 610.7 549.0 610.4 550.3 610.1 C551.6 609.8 552.9 609.5 554.2 609.2 C555.5 608.9 556.8 608.5 558.1 608.2 C559.4 607.9 560.6 607.5 561.9 607.2 C563.2 606.8 564.5 606.5 565.8 606.1 C567.1 605.8 568.4 605.4 569.7 605.1 C570.9 604.7 572.2 604.3 573.5 603.9 C574.8 603.6 576.1 603.2 577.3 602.8 C578.6 602.4 579.9 602.1 581.2 601.7 C582.5 601.3 583.7 600.9 585.0 600.5 C586.3 600.1 587.6 599.7 588.8 599.3 C590.1 598.9 591.4 598.5 592.7 598.1 C593.9 597.7 595.2 597.3 596.5 596.9 C597.8 596.5 599.0 596.1 600.3 595.7 C601.6 595.2 602.8 594.8 604.1 594.4 C605.4 594.0 606.6 593.5 607.9 593.1 C609.1 592.7 610.4 592.3 611.7 591.8 C612.9 591.4 614.2 590.9 615.5 590.5 C616.7 590.0 618.0 589.6 619.2 589.1 C620.5 588.7 621.7 588.2 623.0 587.7 C624.2 587.3 625.5 586.8 626.7 586.3 C628.0 585.9 629.2 585.4 630.5 584.9 C631.7 584.4 633.0 583.9 634.2 583.4 C635.4 582.9 636.7 582.4 637.9 581.9 C639.1 581.4 640.4 580.9 641.6 580.4 C642.8 579.9 644.1 579.4 645.3 578.8 C646.5 578.3 647.8 577.8 649.0 577.3 C650.2 576.7 651.4 576.2 652.6 575.6 C653.9 575.1 655.1 574.5 656.3 574.0 C657.5 573.4 658.7 572.8 659.9 572.3 C661.1 571.7 662.3 571.1 663.5 570.5 C664.7 570.0 665.9 569.4 667.1 568.8 C668.3 568.2 669.5 567.6 670.7 567.0 C671.9 566.4 673.1 565.7 674.3 565.1 C675.4 564.5 676.6 563.9 677.8 563.3 C679.0 562.7 680.2 562.1 681.4 561.6 C682.7 561.0 683.9 560.5 685.2 560.1 C686.4 559.6 687.7 559.2 689.0 558.9 C690.3 558.5 691.6 558.2 692.9 557.9 C694.2 557.7 695.5 557.4 696.8 557.2 C698.1 557.0 699.5 556.8 700.8 556.6 C702.1 556.4 703.4 556.2 704.7 555.9 C706.0 555.7 707.4 555.4 708.7 555.1 C710.0 554.8 711.3 554.5 712.5 554.2 C713.8 553.8 715.1 553.4 716.4 553.0 C717.6 552.6 718.9 552.1 720.1 551.6 C721.3 551.0 722.6 550.4 723.7 549.7 C724.9 549.1 726.0 548.3 727.1 547.5 C728.1 546.7 729.2 545.8 730.1 544.9 C731.1 544.0 732.0 543.0 732.9 542.0 C733.8 541.0 734.6 540.0 735.4 538.9 C736.3 537.9 737.1 536.8 737.9 535.7 C738.7 534.7 739.5 533.6 740.4 532.6 C741.3 531.6 742.2 530.7 743.1 529.7 C744.1 528.7 745.0 527.8 745.9 526.8 C746.8 525.8 747.6 524.7 748.4 523.7 C749.3 522.7 750.1 521.6 750.9 520.5 C751.6 519.4 752.3 518.3 753.0 517.1 C753.7 516.0 754.4 514.8 755.0 513.7 C755.6 512.5 756.3 511.3 756.9 510.1 C757.5 508.9 758.1 507.7 758.7 506.5 C759.3 505.4 759.9 504.2 760.6 503.0 C761.2 501.8 761.8 500.6 762.5 499.5 C763.2 498.4 763.9 497.2 764.7 496.1 C765.4 495.0 766.2 493.9 767.1 492.9 C768.0 491.9 768.9 490.9 769.8 490.0 C770.8 489.1 771.8 488.2 772.8 487.4 C773.9 486.5 775.0 485.8 776.1 485.0 C777.2 484.3 778.4 483.6 779.5 483.0 C780.7 482.3 781.9 481.7 783.1 481.2 C784.3 480.6 785.6 480.1 786.8 479.6 C788.0 479.1 789.3 478.6 790.6 478.2 C791.8 477.8 793.1 477.4 794.4 477.0 C795.7 476.7 797.0 476.3 798.2 476.0 C799.5 475.7 800.8 475.4 802.1 475.1 C803.5 474.8 804.8 474.5 806.1 474.3 C807.4 474.0 808.7 473.8 810.0 473.5 C811.3 473.3 812.6 473.1 814.0 472.9 C815.3 472.7 816.6 472.5 817.9 472.4 C819.3 472.2 820.6 472.1 821.9 471.9 C823.2 471.8 824.6 471.7 825.9 471.5 C827.2 471.4 828.6 471.3 829.9 471.2 C831.2 471.1 832.6 471.0 833.9 471.0 C835.2 470.9 836.6 470.8 837.9 470.8 C839.2 470.7 840.6 470.7 841.9 470.6 C843.2 470.6 844.6 470.5 845.9 470.5 C847.2 470.5 848.6 470.4 849.9 470.4 C851.2 470.4 852.6 470.4 853.9 470.4 C855.2 470.3 856.6 470.3 857.9 470.3 C859.3 470.3 860.6 470.3 861.9 470.3 C863.3 470.3 864.6 470.3 865.9 470.3 C867.3 470.3 868.6 470.3 869.9 470.3 C871.3 470.3 872.6 470.3 873.9 470.3 C875.3 470.3 876.6 470.2 877.9 470.2 C879.3 470.2 880.6 470.2 881.9 470.2 C883.3 470.2 884.6 470.1 886.0 470.1 C887.3 470.1 888.6 470.0 890.0 470.0 C891.3 470.0 892.6 469.9 894.0 469.9 C895.3 469.8 896.6 469.8 898.0 469.7 C899.3 469.7 900.6 469.6 902.0 469.5 C903.3 469.5 904.6 469.4 906.0 469.3 C907.3 469.3 908.6 469.2 910.0 469.1 C911.3 469.0 912.6 469.0 914.0 468.9 C915.3 468.8 916.6 468.7 918.0 468.6 C919.3 468.5 920.6 468.4 922.0 468.3 C923.3 468.2 924.6 468.1 925.9 468.0 C927.3 467.9 928.6 467.8 929.9 467.7 C931.3 467.6 932.6 467.4 933.9 467.3 C935.3 467.2 936.6 467.1 937.9 467.0 C939.2 466.9 940.6 466.7 941.9 466.6 C943.2 466.5 944.6 466.3 945.9 466.2 C947.2 466.1 948.6 466.0 949.9 465.8 C951.2 465.7 952.5 465.5 953.9 465.4 C955.2 465.3 956.5 465.1 957.8 465.0 C959.2 464.8 960.5 464.7 961.8 464.6 C963.2 464.4 964.5 464.3 965.8 464.1 C967.1 464.0 968.5 463.8 969.8 463.7 C971.1 463.5 972.4 463.4 973.8 463.2 C975.1 463.0 976.4 462.9 977.7 462.7 C979.1 462.6 980.4 462.4 981.7 462.2 C983.0 462.0 984.4 461.8 985.7 461.7 C987.0 461.5 988.3 461.3 989.6 461.1 C991.0 460.8 992.3 460.6 993.6 460.4 C994.9 460.2 996.2 459.9 997.5 459.7 C998.9 459.5 1000.2 459.2 1001.5 458.9 C1002.8 458.6 1004.1 458.4 1005.4 458.1 C1006.7 457.8 1008.0 457.5 1009.3 457.1 C1010.6 456.8 1011.9 456.5 1013.2 456.1 C1014.4 455.7 1015.7 455.4 1017.0 455.0 C1018.3 454.6 1019.5 454.2 1020.8 453.8 C1022.1 453.3 1023.3 452.9 1024.6 452.4 C1025.8 452.0 1027.1 451.5 1028.3 451.0 C1029.6 450.5 1030.8 450.0 1032.1 449.5 C1033.3 449.0 1034.5 448.5 1035.7 447.9 C1036.9 447.4 1038.2 446.8 1039.4 446.3 C1040.6 445.7 1041.8 445.1 1043.0 444.5 C1044.2 443.9 1045.3 443.3 1046.5 442.6 C1047.7 442.0 1048.9 441.4 1050.0 440.7 C1051.2 440.1 1052.3 439.4 1053.5 438.7 C1054.6 438.0 1055.8 437.3 1056.9 436.6 C1058.0 435.9 1059.2 435.2 1060.3 434.4 C1061.4 433.7 1062.5 432.9 1063.6 432.2 C1064.7 431.4 1065.8 430.7 1066.8 429.9 C1067.9 429.1 1069.0 428.3 1070.1 427.5 C1071.1 426.7 1072.2 425.8 1073.2 425.0 C1074.3 424.2 1075.3 423.3 1076.3 422.5 C1077.3 421.6 1078.3 420.7 1079.3 419.8 C1080.3 419.0 1081.3 418.1 1082.3 417.1 C1083.3 416.2 1084.3 415.3 1085.2 414.4 C1086.2 413.5 1087.1 412.5 1088.1 411.6 C1089.0 410.6 1089.9 409.6 1090.8 408.7 C1091.7 407.7 1092.6 406.7 1093.5 405.7 C1094.4 404.7 1095.3 403.7 1096.1 402.7 C1097.0 401.7 1097.8 400.6 1098.7 399.6 C1099.5 398.5 1100.3 397.5 1101.1 396.4 C1101.9 395.3 1102.7 394.3 1103.5 393.2 C1104.3 392.1 1105.1 391.0 1105.8 389.9 C1106.6 388.8 1107.4 387.7 1108.1 386.6 C1108.9 385.5 1109.6 384.4 1110.3 383.3 C1111.1 382.2 1111.8 381.1 1112.6 380.0 C1113.3 378.9 1114.0 377.8 1114.8 376.6 C1115.5 375.5 1116.3 374.4 1117.0 373.3 C1117.7 372.2 1118.5 371.1 1119.2 370.0 C1120.0 368.9 1120.7 367.8 1121.5 366.7 C1122.3 365.6 1123.0 364.5 1123.8 363.4 C1124.6 362.3 1125.4 361.3 1126.2 360.2 C1127.0 359.1 1127.8 358.0 1128.6 357.0 C1129.4 355.9 1130.2 354.8 1131.0 353.8 C1131.8 352.7 1132.6 351.7 1133.4 350.6 C1134.2 349.5 1135.1 348.5 1135.9 347.4 C1136.7 346.3 1137.5 345.3 1138.3 344.2 C1139.0 343.1 1139.8 342.0 1140.6 341.0 C1141.4 339.9 1142.2 338.8 1142.9 337.7 C1143.7 336.6 1144.5 335.5 1145.2 334.4 C1145.9 333.3 1146.7 332.2 1147.4 331.0 C1148.1 329.9 1148.8 328.8 1149.5 327.6 C1150.1 326.5 1150.8 325.3 1151.4 324.1 C1152.1 323.0 1152.7 321.8 1153.3 320.6 C1153.9 319.4 1154.5 318.2 1155.1 317.0 C1155.6 315.8 1156.2 314.6 1156.7 313.3 C1157.3 312.1 1157.8 310.9 1158.3 309.7 C1158.8 308.4 1159.3 307.2 1159.8 305.9 C1160.3 304.7 1160.8 303.5 1161.2 302.2 C1161.7 301.0 1162.2 299.7 1162.6 298.4 C1163.0 297.2 1163.5 295.9 1163.9 294.6 C1164.3 293.4 1164.7 292.1 1165.2 290.8 C1165.6 289.6 1166.0 288.3 1166.4 287.0 C1166.8 285.7 1167.1 284.5 1167.5 283.2 C1167.9 281.9 1168.3 280.6 1168.7 279.4 C1169.0 278.1 1169.4 276.8 1169.8 275.5 C1170.2 274.2 1170.5 272.9 1170.9 271.7 C1171.3 270.4 1171.6 269.1 1172.0 267.8 C1172.4 266.5 1172.7 265.2 1173.1 264.0 C1173.5 262.7 1173.8 261.4 1174.2 260.1 C1174.6 258.8 1175.0 257.5 1175.4 256.3 C1175.7 255.0 1176.1 253.7 1176.5 252.4 C1176.9 251.2 1177.3 249.9 1177.7 248.6 C1178.1 247.3 1178.4 246.0 1178.8 244.8 C1179.2 243.5 1179.6 242.2 1180.0 240.9 C1180.4 239.7 1180.8 238.4 1181.2 237.1 C1181.6 235.8 1182.0 234.6 1182.4 233.3 C1182.8 232.0 1183.2 230.7 1183.6 229.5 C1183.9 228.2 1184.3 226.9 1184.7 225.6 C1185.1 224.4 1185.5 223.1 1185.9 221.8 C1186.3 220.5 1186.7 219.2 1187.1 218.0 C1187.4 216.7 1187.8 215.4 1188.2 214.1 C1188.6 212.8 1189.0 211.6 1189.3 210.3 C1189.7 209.0 1190.1 207.7 1190.4 206.4 C1190.8 205.2 1191.2 203.9 1191.5 202.6 C1191.9 201.3 1192.3 200.0 1192.6 198.7 C1193.0 197.4 1193.3 196.1 1193.6 194.8 C1194.0 193.6 1194.3 192.3 1194.6 191.0 C1195.0 189.7 1195.3 188.4 1195.6 187.1 C1195.9 185.8 1196.2 184.5 1196.6 183.2 C1196.9 181.9 1197.2 180.6 1197.4 179.3 C1197.7 178.0 1198.0 176.7 1198.3 175.4 C1198.6 174.1 1198.9 172.8 1199.1 171.5 C1199.4 170.1 1199.6 168.8 1199.9 167.5 C1200.1 166.2 1200.4 164.9 1200.7 163.6 C1200.9 162.3 1201.2 161.0 1201.6 159.7 C1201.9 158.4 1202.3 157.1 1202.8 155.9 C1203.2 154.6 1203.7 153.3 1204.4 152.1 C1205.0 150.9 1205.7 149.7 1206.5 148.6 C1207.3 147.5 1208.2 146.5 1209.2 145.7 C1210.2 144.8 1211.3 144.1 1212.4 143.5 C1213.6 142.9 1214.9 142.5 1216.2 142.0 C1217.4 141.6 1218.8 141.3 1220.1 141.0 C1221.4 140.6 1222.8 140.3 1224.1 139.9 C1225.4 139.6 1226.7 139.2 1228.0 138.8 C1229.2 138.4 1230.5 137.9 1231.8 137.5 C1233.0 137.1 1234.3 136.6 1235.5 136.2 C1236.8 135.7 1238.0 135.3 1239.3 134.9 C1240.5 134.4 1241.8 134.0 1243.0 133.6 C1244.3 133.1 1245.6 132.7 1246.8 132.3 C1248.1 131.9 1249.3 131.4 1250.6 130.9 C1251.8 130.4 1253.1 129.9 1254.3 129.4 C1255.5 128.9 1256.7 128.3 1257.9 127.7 C1259.1 127.1 1260.3 126.5 1261.5 125.8 C1262.6 125.1 1263.8 124.4 1264.9 123.7 C1266.0 123.0 1267.1 122.2 1268.1 121.4 C1269.2 120.5 1270.2 119.7 1271.2 118.8 C1272.2 117.9 1273.2 117.0 1274.1 116.1 C1275.1 115.1 1276.0 114.1 1276.8 113.1 C1277.7 112.1 1278.6 111.1 1279.4 110.0 C1280.2 109.0 1281.0 107.9 1281.7 106.7 C1282.4 105.6 1283.1 104.5 1283.8 103.3 C1284.4 102.2 1285.0 101.0 1285.6 99.8 C1286.2 98.6 1286.7 97.3 1287.2 96.1 C1287.7 94.8 1288.1 93.6 1288.6 92.3 C1289.0 91.1 1289.4 89.8 1289.8 88.5 C1290.1 87.2 1290.5 85.9 1290.8 84.6 C1291.1 83.3 1291.4 82.0 1291.6 80.7 C1291.9 79.4 1292.1 78.1 1292.3 76.8 C1292.6 75.5 1292.8 74.1 1292.9 72.8 C1293.1 71.5 1293.3 70.2 1293.5 68.8 C1293.6 67.5 1293.8 66.2 1293.9 64.9 C1294.1 63.5 1294.2 62.2 1294.3 60.9 C1294.4 59.5 1294.5 58.2 1294.7 56.9 C1294.8 55.6 1294.9 54.2 1295.0 52.9 C1295.1 51.6 1295.2 50.2 1295.3 48.9 C1295.4 47.6 1295.5 46.2 1295.6 44.9 C1295.7 43.6 1295.9 42.2 1296.0 40.9 C1296.1 39.6 1296.2 38.3 1296.3 36.9 C1296.5 35.6 1296.6 34.3 1296.8 32.9 C1296.9 31.6 1297.1 30.3 1297.2 29.0 C1297.4 27.6 1297.7 25.7 1297.8 25.0" fill="none" stroke="#ff0000" stroke-width="4.20" stroke-linejoin="round" stroke-linecap="round"/>
<path d="M231.8 924.0 C231.8 923.3 231.7 921.3 231.7 920.0 C231.6 918.7 231.6 917.3 231.6 916.0 C231.5 914.6 231.5 913.3 231.5 912.0 C231.5 910.6 231.5 909.3 231.5 908.0 C231.5 906.6 231.5 905.3 231.5 904.0 C231.5 902.6 231.5 901.3 231.5 899.9 C231.5 898.6 231.5 897.3 231.5 895.9 C231.5 894.6 231.6 893.3 231.6 891.9 C231.6 890.6 231.7 889.3 231.7 887.9 C231.7 886.6 231.8 885.2 231.8 883.9 C231.9 882.6 231.9 881.2 232.0 879.9 C232.0 878.6 232.1 877.2 232.1 875.9 C232.2 874.6 232.3 873.2 232.3 871.9 C232.4 870.6 232.5 869.2 232.5 867.9 C232.6 866.6 232.7 865.2 232.8 863.9 C232.8 862.6 232.9 861.2 233.0 859.9 C233.1 858.6 233.2 857.2 233.3 855.9 C233.4 854.6 233.5 853.2 233.6 851.9 C233.7 850.6 233.7 849.2 233.9 847.9 C234.0 846.6 234.1 845.2 234.2 843.9 C234.3 842.6 234.4 841.2 234.5 839.9 C234.6 838.6 234.7 837.2 234.8 835.9 C234.9 834.6 235.0 833.2 235.2 831.9 C235.3 830.6 235.4 829.2 235.5 827.9 C235.6 826.6 235.8 825.2 235.9 823.9 C236.0 822.6 236.1 821.3 236.3 819.9 C236.4 818.6 236.5 817.3 236.6 815.9 C236.8 814.6 236.9 813.3 237.0 811.9 C237.1 810.6 237.3 809.3 237.4 807.9 C237.5 806.6 237.7 805.3 237.8 804.0 C237.9 802.6 238.1 801.3 238.2 800.0 C238.3 798.6 238.5 797.3 238.6 796.0 C238.7 794.6 238.9 793.3 239.0 792.0 C239.1 790.7 239.3 789.3 239.4 788.0 C239.5 786.7 239.7 785.3 239.8 784.0 C239.9 782.7 240.1 781.4 240.2 780.0 C240.3 778.7 240.5 777.4 240.6 776.0 C240.7 774.7 240.8 773.4 241.0 772.0 C241.1 770.7 241.2 769.4 241.4 768.0 C241.5 766.7 241.6 765.4 241.8 764.1 C241.9 762.7 242.0 761.4 242.1 760.1 C242.3 758.7 242.4 757.4 242.6 756.1 C242.7 754.7 242.8 753.4 243.0 752.1 C243.1 750.8 243.2 749.4 243.4 748.1 C243.5 746.8 243.7 745.4 243.8 744.1 C244.0 742.8 244.2 741.5 244.3 740.1 C244.5 738.8 244.6 737.5 244.8 736.2 C245.0 734.8 245.2 733.5 245.3 732.2 C245.5 730.9 245.7 729.5 245.9 728.2 C246.1 726.9 246.3 725.6 246.5 724.2 C246.7 722.9 246.9 721.6 247.1 720.3 C247.3 719.0 247.6 717.7 247.8 716.3 C248.0 715.0 248.3 713.7 248.5 712.4 C248.8 711.1 249.0 709.8 249.3 708.5 C249.6 707.2 249.8 705.8 250.1 704.5 C250.4 703.2 250.7 701.9 251.0 700.6 C251.3 699.3 251.6 698.0 251.9 696.7 C252.3 695.4 252.6 694.1 253.0 692.8 C253.3 691.6 253.7 690.3 254.0 689.0 C254.4 687.7 254.8 686.4 255.2 685.1 C255.6 683.9 256.0 682.6 256.4 681.3 C256.8 680.0 257.2 678.8 257.7 677.5 C258.1 676.3 258.6 675.0 259.0 673.7 C259.5 672.5 260.0 671.3 260.5 670.0 C261.0 668.8 261.5 667.6 262.1 666.3 C262.7 665.1 263.2 663.9 263.9 662.7 C264.5 661.6 265.1 660.4 265.8 659.2 C266.5 658.1 267.2 656.9 267.9 655.8 C268.7 654.7 269.4 653.6 270.2 652.6 C271.1 651.5 271.9 650.5 272.8 649.5 C273.7 648.5 274.6 647.5 275.6 646.6 C276.6 645.7 277.6 644.8 278.6 643.9 C279.6 643.1 280.7 642.3 281.8 641.5 C282.9 640.7 284.0 640.0 285.1 639.3 C286.3 638.6 287.4 637.9 288.6 637.3 C289.8 636.6 291.0 636.0 292.2 635.4 C293.4 634.9 294.6 634.3 295.8 633.8 C297.1 633.3 298.3 632.8 299.5 632.3 C300.8 631.9 302.1 631.4 303.3 631.0 C304.6 630.6 305.9 630.2 307.2 629.9 C308.5 629.5 309.8 629.2 311.1 628.9 C312.4 628.6 313.7 628.3 315.0 628.0 C316.3 627.7 317.6 627.5 318.9 627.3 C320.2 627.0 321.6 626.8 322.9 626.6 C324.2 626.4 325.5 626.3 326.9 626.1 C328.2 625.9 329.5 625.8 330.8 625.6 C332.2 625.5 333.5 625.4 334.8 625.2 C336.2 625.1 337.5 625.0 338.8 624.9 C340.2 624.8 341.5 624.7 342.8 624.6 C344.2 624.5 345.5 624.4 346.8 624.3 C348.1 624.2 349.5 624.1 350.8 624.0 C352.1 623.9 353.5 623.8 354.8 623.7 C356.2 623.6 357.5 623.5 358.8 623.5 C360.2 623.4 361.5 623.3 362.8 623.2 C364.2 623.1 365.5 623.1 366.8 623.0 C368.2 622.9 369.5 622.8 370.8 622.8 C372.2 622.7 373.5 622.6 374.8 622.6 C376.2 622.5 377.5 622.4 378.8 622.4 C380.2 622.3 381.5 622.2 382.8 622.2 C384.2 622.1 385.5 622.1 386.8 622.0 C388.2 621.9 389.5 621.9 390.9 621.8 C392.2 621.8 393.5 621.7 394.9 621.7 C396.2 621.6 397.5 621.5 398.9 621.5 C400.2 621.4 401.5 621.4 402.9 621.3 C404.2 621.3 405.5 621.2 406.9 621.2 C408.2 621.1 409.5 621.1 410.9 621.0 C412.2 621.0 413.6 620.9 414.9 620.9 C416.2 620.8 417.6 620.8 418.9 620.7 C420.2 620.7 421.6 620.6 422.9 620.6 C424.2 620.5 425.6 620.5 426.9 620.4 C428.2 620.4 429.6 620.3 430.9 620.3 C432.3 620.2 433.6 620.2 434.9 620.1 C436.3 620.1 437.6 620.0 438.9 620.0 C440.3 619.9 441.6 619.9 442.9 619.8 C444.3 619.8 445.6 619.7 446.9 619.7 C448.3 619.6 449.6 619.6 451.0 619.5 C452.3 619.5 453.6 619.4 455.0 619.4 C456.3 619.3 457.6 619.2 459.0 619.2 C460.3 619.1 461.6 619.1 463.0 619.0 C464.3 619.0 465.6 618.9 467.0 618.8 C468.3 618.8 469.6 618.7 471.0 618.7 C472.3 618.6 473.7 618.5 475.0 618.5 C476.3 618.4 477.7 618.3 479.0 618.3 C480.3 618.2 481.7 618.1 483.0 618.1 C484.3 618.0 485.7 617.9 487.0 617.9 C488.3 617.8 489.7 617.7 491.0 617.6 C492.3 617.6 493.7 617.5 495.0 617.4 C496.3 617.3 497.7 617.2 499.0 617.1 C500.3 617.1 501.7 617.0 503.0 616.9 C504.3 616.8 505.7 616.7 507.0 616.6 C508.3 616.5 509.7 616.4 511.0 616.3 C512.3 616.2 513.7 616.1 515.0 616.0 C516.3 615.9 517.7 615.8 519.0 615.7 C520.3 615.6 521.7 615.5 523.0 615.4 C524.3 615.3 525.7 615.2 527.0 615.1 C528.3 615.0 529.7 614.8 531.0 614.7 C532.3 614.6 533.7 614.5 535.0 614.3 C536.3 614.2 537.6 614.1 539.0 614.0 C540.3 613.8 541.6 613.7 543.0 613.6 C544.3 613.4 545.6 613.3 546.9 613.1 C548.3 613.0 549.6 612.8 550.9 612.7 C552.3 612.5 553.6 612.4 554.9 612.2 C556.2 612.0 557.6 611.8 558.9 611.7 C560.2 611.5 561.5 611.3 562.9 611.1 C564.2 610.9 565.5 610.7 566.8 610.5 C568.1 610.2 569.5 610.0 570.8 609.8 C572.1 609.5 573.4 609.3 574.7 609.0 C576.0 608.8 577.3 608.5 578.6 608.2 C579.9 607.9 581.2 607.6 582.5 607.3 C583.8 607.0 585.1 606.7 586.4 606.3 C587.7 606.0 589.0 605.6 590.3 605.3 C591.6 604.9 592.9 604.6 594.2 604.2 C595.4 603.8 596.7 603.4 598.0 603.0 C599.3 602.6 600.5 602.2 601.8 601.8 C603.1 601.4 604.4 601.0 605.6 600.6 C606.9 600.2 608.2 599.8 609.5 599.4 C610.7 599.0 612.0 598.5 613.3 598.1 C614.5 597.7 615.8 597.3 617.1 596.8 C618.3 596.4 619.6 596.0 620.9 595.6 C622.1 595.1 623.4 594.7 624.7 594.3 C625.9 593.9 627.2 593.4 628.5 593.0 C629.7 592.6 631.0 592.2 632.3 591.8 C633.5 591.3 634.8 590.9 636.1 590.5 C637.4 590.1 638.6 589.7 639.9 589.2 C641.2 588.8 642.4 588.4 643.7 588.0 C645.0 587.6 646.2 587.2 647.5 586.7 C648.8 586.3 650.0 585.9 651.3 585.5 C652.6 585.1 653.9 584.6 655.1 584.2 C656.4 583.8 657.7 583.4 658.9 583.0 C660.2 582.5 661.5 582.1 662.7 581.7 C664.0 581.3 665.3 580.9 666.5 580.4 C667.8 580.0 669.1 579.6 670.3 579.2 C671.6 578.7 672.9 578.3 674.1 577.9 C675.4 577.5 676.7 577.0 677.9 576.6 C679.2 576.2 680.5 575.7 681.7 575.3 C683.0 574.9 684.3 574.4 685.5 574.0 C686.8 573.6 688.1 573.1 689.3 572.7 C690.6 572.3 691.8 571.8 693.1 571.4 C694.4 570.9 695.6 570.5 696.9 570.0 C698.1 569.6 699.4 569.1 700.7 568.7 C701.9 568.2 703.2 567.8 704.4 567.3 C705.7 566.9 706.9 566.4 708.2 566.0 C709.4 565.5 710.7 565.0 711.9 564.5 C713.2 564.1 714.4 563.6 715.7 563.1 C716.9 562.6 718.2 562.1 719.4 561.6 C720.6 561.1 721.9 560.5 723.1 560.0 C724.3 559.4 725.5 558.9 726.7 558.3 C727.9 557.7 729.1 557.1 730.3 556.5 C731.5 555.9 732.7 555.3 733.8 554.6 C735.0 554.0 736.2 553.3 737.3 552.6 C738.4 551.9 739.6 551.2 740.7 550.4 C741.8 549.7 742.9 548.9 743.9 548.1 C745.0 547.3 746.1 546.5 747.1 545.6 C748.1 544.8 749.1 543.9 750.1 543.0 C751.1 542.1 752.1 541.2 753.0 540.2 C754.0 539.3 754.9 538.3 755.8 537.4 C756.7 536.4 757.6 535.4 758.5 534.4 C759.4 533.4 760.2 532.3 761.1 531.3 C761.9 530.3 762.7 529.2 763.5 528.1 C764.3 527.1 765.1 526.0 765.9 524.9 C766.6 523.8 767.4 522.7 768.1 521.6 C768.9 520.4 769.6 519.3 770.3 518.2 C771.0 517.0 771.7 515.9 772.4 514.8 C773.1 513.6 773.8 512.5 774.5 511.3 C775.2 510.2 775.9 509.0 776.6 507.9 C777.3 506.8 778.0 505.6 778.7 504.5 C779.4 503.4 780.1 502.2 780.8 501.1 C781.6 500.0 782.3 498.9 783.1 497.8 C783.9 496.7 784.7 495.7 785.5 494.6 C786.3 493.5 787.1 492.5 788.0 491.5 C788.9 490.5 789.8 489.5 790.7 488.5 C791.6 487.5 792.6 486.6 793.5 485.7 C794.5 484.8 795.5 483.9 796.6 483.0 C797.6 482.2 798.7 481.4 799.7 480.6 C800.8 479.8 801.9 479.1 803.1 478.4 C804.2 477.7 805.4 477.0 806.6 476.4 C807.8 475.8 809.0 475.3 810.2 474.7 C811.5 474.2 812.7 473.8 814.0 473.3 C815.2 472.9 816.5 472.5 817.8 472.1 C819.1 471.7 820.4 471.4 821.7 471.1 C823.0 470.8 824.3 470.5 825.6 470.2 C826.9 469.9 828.2 469.7 829.5 469.5 C830.8 469.2 832.2 469.0 833.5 468.8 C834.8 468.6 836.1 468.4 837.4 468.2 C838.8 468.0 840.1 467.8 841.4 467.6 C842.7 467.4 844.1 467.3 845.4 467.1 C846.7 467.0 848.0 466.8 849.4 466.7 C850.7 466.5 852.0 466.4 853.4 466.2 C854.7 466.1 856.0 466.0 857.4 465.9 C858.7 465.7 860.0 465.6 861.3 465.5 C862.7 465.4 864.0 465.3 865.3 465.2 C866.7 465.1 868.0 465.0 869.3 464.9 C870.7 464.8 872.0 464.8 873.3 464.7 C874.7 464.6 876.0 464.5 877.3 464.4 C878.7 464.4 880.0 464.3 881.4 464.2 C882.7 464.2 884.0 464.1 885.4 464.0 C886.7 464.0 888.0 463.9 889.4 463.8 C890.7 463.8 892.0 463.7 893.4 463.7 C894.7 463.6 896.0 463.5 897.4 463.5 C898.7 463.4 900.0 463.4 901.4 463.3 C902.7 463.3 904.1 463.2 905.4 463.1 C906.7 463.1 908.1 463.0 909.4 463.0 C910.7 462.9 912.1 462.8 913.4 462.8 C914.7 462.7 916.1 462.6 917.4 462.6 C918.7 462.5 920.1 462.4 921.4 462.4 C922.7 462.3 924.1 462.2 925.4 462.1 C926.7 462.0 928.1 462.0 929.4 461.9 C930.7 461.8 932.1 461.7 933.4 461.6 C934.7 461.5 936.1 461.4 937.4 461.3 C938.7 461.2 940.1 461.1 941.4 461.0 C942.7 460.8 944.1 460.7 945.4 460.6 C946.7 460.5 948.1 460.3 949.4 460.2 C950.7 460.1 952.0 459.9 953.4 459.8 C954.7 459.7 956.0 459.5 957.4 459.4 C958.7 459.2 960.0 459.1 961.3 458.9 C962.7 458.7 964.0 458.6 965.3 458.4 C966.6 458.2 968.0 458.0 969.3 457.9 C970.6 457.7 971.9 457.5 973.3 457.3 C974.6 457.1 975.9 456.9 977.2 456.7 C978.6 456.5 979.9 456.3 981.2 456.1 C982.5 455.8 983.8 455.6 985.1 455.4 C986.5 455.2 987.8 454.9 989.1 454.7 C990.4 454.4 991.7 454.2 993.0 453.9 C994.3 453.7 995.7 453.4 997.0 453.2 C998.3 452.9 999.6 452.6 1000.9 452.3 C1002.2 452.1 1003.5 451.8 1004.8 451.5 C1006.1 451.2 1007.4 450.9 1008.7 450.6 C1010.0 450.3 1011.3 450.0 1012.6 449.7 C1013.9 449.3 1015.2 449.0 1016.5 448.7 C1017.8 448.3 1019.1 448.0 1020.4 447.6 C1021.7 447.3 1023.0 446.9 1024.2 446.6 C1025.5 446.2 1026.8 445.8 1028.1 445.5 C1029.4 445.1 1030.6 444.7 1031.9 444.3 C1033.2 443.9 1034.5 443.5 1035.7 443.1 C1037.0 442.7 1038.3 442.3 1039.6 441.8 C1040.8 441.4 1042.1 441.0 1043.3 440.5 C1044.6 440.1 1045.9 439.6 1047.1 439.2 C1048.4 438.7 1049.6 438.2 1050.9 437.8 C1052.1 437.3 1053.4 436.8 1054.6 436.3 C1055.9 435.8 1057.1 435.3 1058.3 434.8 C1059.6 434.3 1060.8 433.8 1062.0 433.2 C1063.2 432.7 1064.5 432.2 1065.7 431.6 C1066.9 431.1 1068.1 430.5 1069.3 429.9 C1070.5 429.3 1071.7 428.8 1072.9 428.2 C1074.1 427.6 1075.3 427.0 1076.5 426.4 C1077.7 425.7 1078.9 425.1 1080.0 424.5 C1081.2 423.8 1082.4 423.2 1083.5 422.5 C1084.7 421.9 1085.9 421.2 1087.0 420.5 C1088.2 419.8 1089.3 419.1 1090.4 418.4 C1091.6 417.7 1092.7 417.0 1093.8 416.3 C1094.9 415.5 1096.0 414.8 1097.1 414.0 C1098.2 413.3 1099.3 412.5 1100.4 411.7 C1101.5 410.9 1102.6 410.1 1103.6 409.3 C1104.7 408.5 1105.8 407.7 1106.8 406.9 C1107.8 406.0 1108.9 405.2 1109.9 404.3 C1110.9 403.4 1111.9 402.6 1112.9 401.7 C1113.9 400.8 1114.9 399.9 1115.9 399.0 C1116.9 398.1 1117.8 397.1 1118.8 396.2 C1119.7 395.3 1120.7 394.3 1121.6 393.4 C1122.5 392.4 1123.4 391.4 1124.3 390.4 C1125.3 389.4 1126.1 388.4 1127.0 387.4 C1127.9 386.4 1128.8 385.4 1129.6 384.4 C1130.5 383.4 1131.4 382.4 1132.2 381.3 C1133.1 380.3 1133.9 379.2 1134.7 378.2 C1135.6 377.2 1136.4 376.1 1137.2 375.0 C1138.0 374.0 1138.8 372.9 1139.6 371.9 C1140.4 370.8 1141.3 369.7 1142.1 368.7 C1142.9 367.6 1143.6 366.5 1144.4 365.4 C1145.2 364.4 1146.0 363.3 1146.8 362.2 C1147.6 361.1 1148.4 360.1 1149.2 359.0 C1150.0 357.9 1150.8 356.8 1151.5 355.7 C1152.3 354.7 1153.1 353.6 1153.9 352.5 C1154.7 351.4 1155.4 350.3 1156.2 349.2 C1157.0 348.1 1157.8 347.0 1158.5 345.9 C1159.3 344.8 1160.1 343.8 1160.8 342.6 C1161.6 341.5 1162.3 340.4 1163.1 339.3 C1163.8 338.2 1164.5 337.1 1165.3 336.0 C1166.0 334.9 1166.7 333.7 1167.4 332.6 C1168.2 331.5 1168.9 330.4 1169.6 329.2 C1170.3 328.1 1171.0 326.9 1171.6 325.8 C1172.3 324.6 1173.0 323.5 1173.6 322.3 C1174.3 321.1 1174.9 320.0 1175.6 318.8 C1176.2 317.6 1176.8 316.4 1177.5 315.3 C1178.1 314.1 1178.7 312.9 1179.3 311.7 C1179.9 310.5 1180.5 309.3 1181.0 308.1 C1181.6 306.9 1182.2 305.7 1182.7 304.4 C1183.3 303.2 1183.8 302.0 1184.4 300.8 C1184.9 299.6 1185.5 298.3 1186.0 297.1 C1186.5 295.9 1187.0 294.7 1187.5 293.4 C1188.0 292.2 1188.5 290.9 1189.0 289.7 C1189.5 288.5 1190.0 287.2 1190.5 286.0 C1191.0 284.7 1191.4 283.5 1191.9 282.2 C1192.4 281.0 1192.8 279.7 1193.3 278.4 C1193.7 277.2 1194.2 275.9 1194.6 274.7 C1195.1 273.4 1195.5 272.1 1195.9 270.9 C1196.4 269.6 1196.8 268.3 1197.2 267.1 C1197.6 265.8 1198.0 264.5 1198.5 263.3 C1198.9 262.0 1199.3 260.7 1199.7 259.4 C1200.1 258.2 1200.5 256.9 1200.9 255.6 C1201.3 254.3 1201.7 253.1 1202.1 251.8 C1202.5 250.5 1202.9 249.2 1203.3 248.0 C1203.7 246.7 1204.0 245.4 1204.4 244.1 C1204.8 242.8 1205.2 241.6 1205.6 240.3 C1206.0 239.0 1206.4 237.7 1206.7 236.4 C1207.1 235.2 1207.5 233.9 1207.9 232.6 C1208.3 231.3 1208.6 230.0 1209.0 228.8 C1209.4 227.5 1209.8 226.2 1210.2 224.9 C1210.6 223.6 1210.9 222.4 1211.3 221.1 C1211.7 219.8 1212.1 218.5 1212.5 217.2 C1212.9 216.0 1213.3 214.7 1213.6 213.4 C1214.0 212.1 1214.4 210.8 1214.8 209.6 C1215.2 208.3 1215.5 207.0 1215.9 205.7 C1216.3 204.4 1216.7 203.1 1217.1 201.9 C1217.4 200.6 1217.8 199.3 1218.2 198.0 C1218.5 196.7 1218.9 195.4 1219.3 194.2 C1219.6 192.9 1220.0 191.6 1220.4 190.3 C1220.7 189.0 1221.1 187.7 1221.4 186.4 C1221.8 185.1 1222.1 183.9 1222.5 182.6 C1222.8 181.3 1223.2 180.0 1223.5 178.7 C1223.8 177.4 1224.2 176.1 1224.5 174.8 C1224.8 173.5 1225.1 172.2 1225.4 170.9 C1225.8 169.6 1226.1 168.3 1226.4 167.0 C1226.7 165.7 1227.0 164.4 1227.3 163.1 C1227.5 161.8 1227.8 160.5 1228.1 159.2 C1228.4 157.9 1228.6 156.5 1228.9 155.2 C1229.3 153.9 1229.6 152.6 1230.0 151.3 C1230.5 150.0 1231.0 148.8 1231.6 147.6 C1232.2 146.4 1232.9 145.3 1233.8 144.3 C1234.7 143.3 1235.7 142.4 1236.7 141.5 C1237.8 140.7 1238.9 139.9 1240.1 139.2 C1241.2 138.5 1242.4 137.9 1243.7 137.4 C1244.9 136.9 1246.2 136.4 1247.4 136.0 C1248.7 135.6 1250.0 135.2 1251.3 134.8 C1252.6 134.4 1253.9 134.1 1255.1 133.8 C1256.4 133.4 1257.7 133.0 1259.0 132.7 C1260.3 132.3 1261.6 131.9 1262.8 131.4 C1264.1 131.0 1265.4 130.5 1266.6 130.1 C1267.9 129.6 1269.1 129.1 1270.3 128.6 C1271.6 128.1 1272.8 127.6 1274.0 127.1 C1275.2 126.5 1276.5 125.9 1277.7 125.3 C1278.8 124.7 1280.0 124.1 1281.2 123.5 C1282.4 122.8 1283.5 122.1 1284.6 121.4 C1285.8 120.7 1286.9 120.0 1288.0 119.2 C1289.1 118.4 1290.2 117.6 1291.2 116.8 C1292.3 116.0 1293.3 115.1 1294.3 114.2 C1295.3 113.3 1296.3 112.4 1297.2 111.5 C1298.2 110.6 1299.1 109.6 1300.0 108.6 C1300.9 107.6 1301.7 106.6 1302.5 105.5 C1303.3 104.4 1304.1 103.4 1304.9 102.2 C1305.6 101.1 1306.3 100.0 1307.0 98.9 C1307.7 97.7 1308.3 96.5 1308.9 95.3 C1309.6 94.2 1310.1 92.9 1310.7 91.7 C1311.2 90.5 1311.7 89.3 1312.2 88.0 C1312.7 86.8 1313.2 85.5 1313.6 84.3 C1314.0 83.0 1314.5 81.7 1314.8 80.4 C1315.2 79.2 1315.6 77.9 1315.9 76.6 C1316.3 75.3 1316.6 74.0 1316.9 72.7 C1317.2 71.4 1317.5 70.1 1317.7 68.8 C1318.0 67.5 1318.3 66.2 1318.5 64.8 C1318.7 63.5 1319.0 62.2 1319.2 60.9 C1319.4 59.6 1319.6 58.2 1319.7 56.9 C1319.9 55.6 1320.1 54.3 1320.3 52.9 C1320.4 51.6 1320.6 50.3 1320.7 49.0 C1320.9 47.6 1321.0 46.3 1321.2 45.0 C1321.3 43.6 1321.4 42.3 1321.5 41.0 C1321.7 39.6 1321.8 38.3 1321.9 37.0 C1322.0 35.7 1322.1 34.3 1322.2 33.0 C1322.3 31.7 1322.4 30.3 1322.6 29.0 C1322.7 27.7 1322.8 25.7 1322.9 25.0" fill="none" stroke="#000" stroke-width="4.20" stroke-linejoin="round" stroke-linecap="round"/>
</g>
<rect x="718" y="27.5" width="320" height="226.1" fill="#fff" stroke="#000" stroke-width="5.2"/>
<g transform="translate(746,91.8) scale(1.000,1)" fill="#ff0000" font-size="58.5"><text x="0" y="0"><tspan textLength="43" lengthAdjust="spacingAndGlyphs" dy="-7.7">—</tspan><tspan dx="7" dy="7.7">:</tspan><tspan dx="13" letter-spacing="-1.5" word-spacing="-0.5">1/10 C</tspan></text></g>
<g transform="translate(746,158.1) scale(1.000,1)" fill="#000" font-size="58.5"><text x="0" y="0"><tspan textLength="43" lengthAdjust="spacingAndGlyphs" dy="-7.7">—</tspan><tspan dx="7" dy="7.7">:</tspan><tspan dx="13" letter-spacing="-1.5" word-spacing="-0.5">1/100 C</tspan></text></g>
<g transform="translate(746,225.3) scale(1.000,1)" fill="#2a24cf" font-size="58.5"><text x="0" y="0"><tspan textLength="43" lengthAdjust="spacingAndGlyphs" dy="-7.7">—</tspan><tspan dx="7" dy="7.7">:</tspan><tspan dx="13" letter-spacing="-1.5" word-spacing="-0.5">1/250 C</tspan></text></g>
<g transform="translate(230.6,1087.8) scale(1.000,1)"><text text-anchor="middle" font-size="60.5" letter-spacing="-1.9">0</text></g>
<g transform="translate(392.3,1087.8) scale(1.000,1)"><text text-anchor="middle" font-size="60.5" letter-spacing="-1.9">50</text></g>
<g transform="translate(553.9,1087.8) scale(1.000,1)"><text text-anchor="middle" font-size="60.5" letter-spacing="-1.9">100</text></g>
<g transform="translate(715.6,1087.8) scale(1.000,1)"><text text-anchor="middle" font-size="60.5" letter-spacing="-1.9">150</text></g>
<g transform="translate(877.2,1087.8) scale(1.000,1)"><text text-anchor="middle" font-size="60.5" letter-spacing="-1.9">200</text></g>
<g transform="translate(1038.9,1087.8) scale(1.000,1)"><text text-anchor="middle" font-size="60.5" letter-spacing="-1.9">250</text></g>
<g transform="translate(1200.6,1087.8) scale(1.000,1)"><text text-anchor="middle" font-size="60.5" letter-spacing="-1.9">300</text></g>
<g transform="translate(1362.2,1087.8) scale(1.000,1)"><text text-anchor="middle" font-size="60.5" letter-spacing="-1.9">350</text></g>
<g transform="translate(1523.9,1087.8) scale(1.000,1)"><text text-anchor="middle" font-size="60.5" letter-spacing="-1.9">400</text></g>
<g transform="translate(168.3,43.8) scale(1.000,1)"><text text-anchor="end" font-size="60.5" letter-spacing="-1.6">0.25</text></g>
<g transform="translate(168.3,239.7) scale(1.000,1)"><text text-anchor="end" font-size="60.5" letter-spacing="-1.6">0.20</text></g>
<g transform="translate(168.3,435.6) scale(1.000,1)"><text text-anchor="end" font-size="60.5" letter-spacing="-1.6">0.15</text></g>
<g transform="translate(168.3,631.5) scale(1.000,1)"><text text-anchor="end" font-size="60.5" letter-spacing="-1.6">0.10</text></g>
<g transform="translate(168.3,827.4) scale(1.000,1)"><text text-anchor="end" font-size="60.5" letter-spacing="-1.6">0.05</text></g>
<g transform="translate(168.3,1023.3) scale(1.000,1)"><text text-anchor="end" font-size="60.5" letter-spacing="-1.6">0.00</text></g>
<g transform="translate(683,1155) scale(1.000,1)"><text font-size="65.0" letter-spacing="-1.3">Capacity/Ahkg<tspan font-size="42" dy="-18.5">-1</tspan></text></g>
<g transform="translate(49,658.5) rotate(-90) scale(1.000,1)"><text font-size="65.0" letter-spacing="-1.5">Potential/V</text></g>
</g>
</svg>
</body></html>
